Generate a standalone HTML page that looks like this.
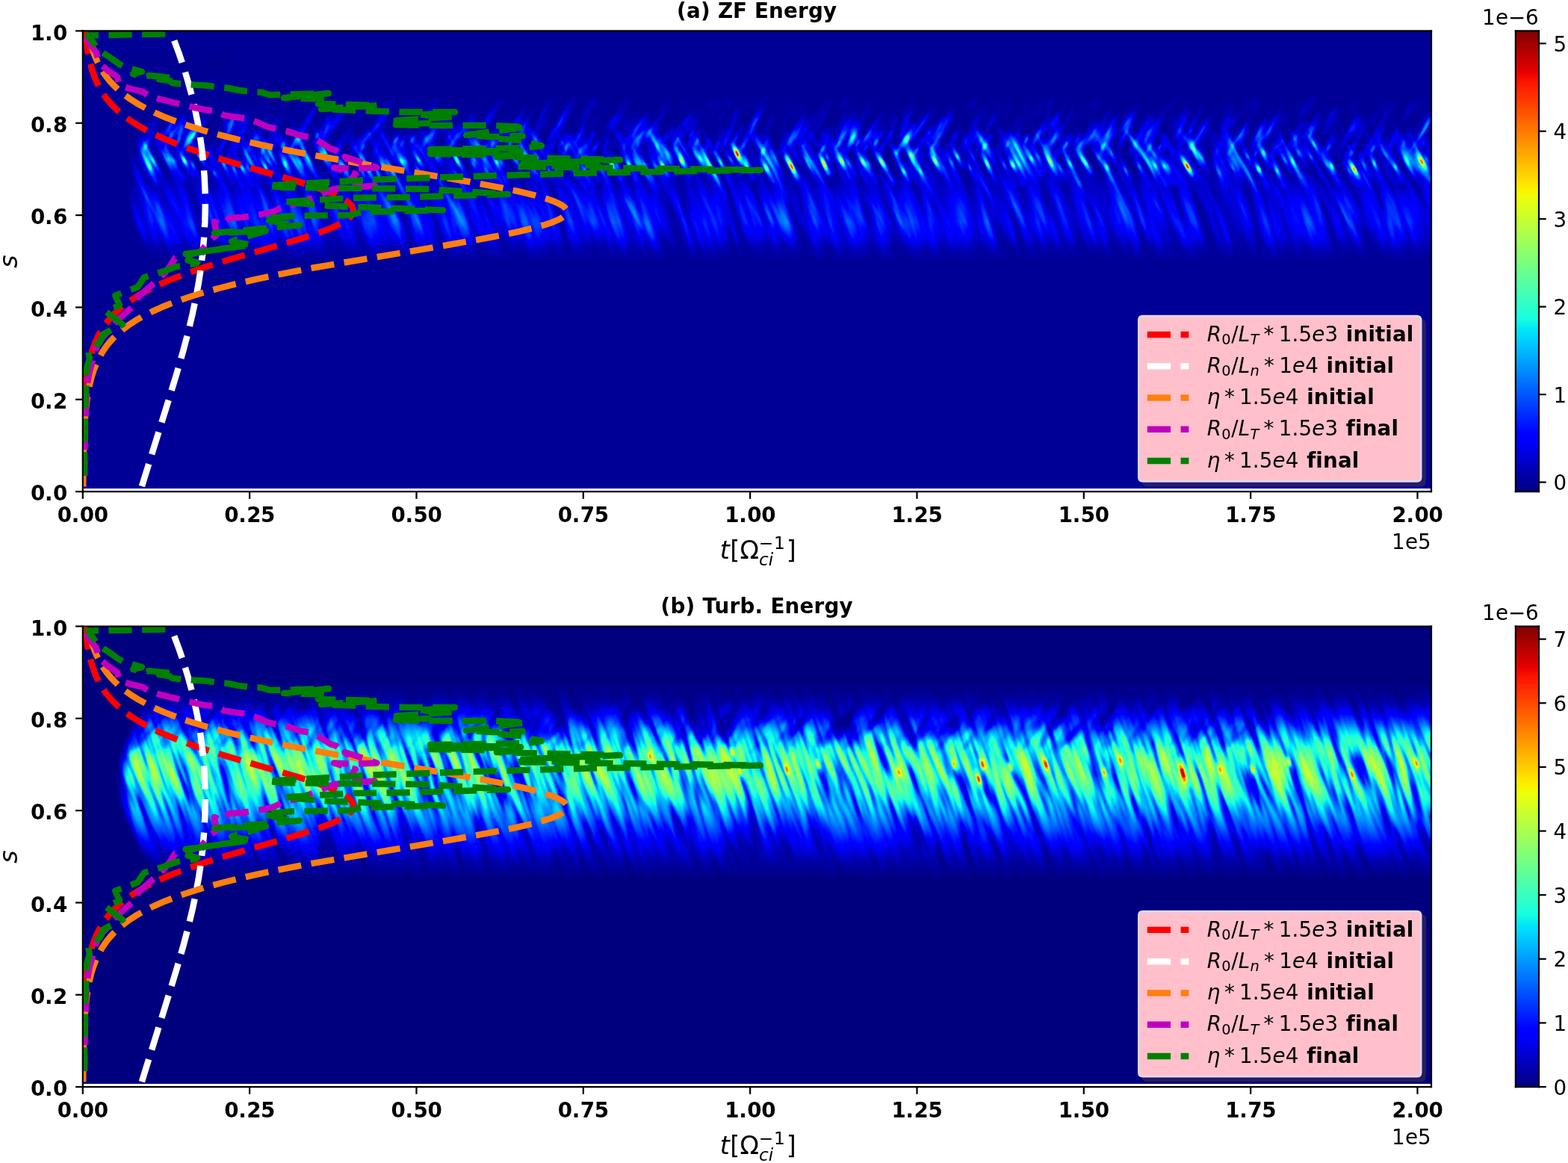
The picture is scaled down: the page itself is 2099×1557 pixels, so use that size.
<!DOCTYPE html>
<html lang="en"><head><meta charset="utf-8"><title>ZF and Turbulence Energy</title>
<style>html,body{margin:0;padding:0;background:#fff}#fig{position:relative;width:2099px;height:1557px;overflow:hidden;background:#fff;font-family:"DejaVu Sans","Liberation Sans",sans-serif}#fig svg{display:block}</style>
</head><body><div id="fig">
<svg width="2099" height="1557" viewBox="0 0 2099 1557" style="position:absolute;left:0;top:0"><defs><filter id="jet" filterUnits="userSpaceOnUse" x="0" y="0" width="2099" height="1557" color-interpolation-filters="sRGB"><feComponentTransfer><feFuncR type="table" tableValues="0 0 0 0 0 0 0 0 0 0 0 0 0 0 0 0 0 0 0 0 0 0 0 0 0 0 0 0 0 0 0 0 0 0 0 0 0 0 0 0 0 0 0 0 0 0.009 0.035 0.06 0.085 0.111 0.136 0.161 0.187 0.212 0.237 0.262 0.288 0.313 0.338 0.364 0.389 0.414 0.44 0.465 0.503 0.528 0.553 0.579 0.604 0.629 0.655 0.68 0.705 0.731 0.756 0.781 0.806 0.832 0.857 0.882 0.908 0.933 0.958 0.984 1 1 1 1 1 1 1 1 1 1 1 1 1 1 1 1 1 1 1 1 1 1 1 1 1 1 1 1 1 0.999 0.963 0.928 0.892 0.857 0.821 0.785 0.75 0.714 0.678 0.643 0.607 0.571 0.536 0.5"/><feFuncG type="table" tableValues="0 0 0 0 0 0 0 0 0 0 0 0 0 0 0 0 0.002 0.033 0.065 0.096 0.127 0.159 0.19 0.222 0.253 0.284 0.316 0.347 0.378 0.41 0.441 0.473 0.504 0.535 0.567 0.598 0.629 0.661 0.692 0.724 0.755 0.786 0.818 0.849 0.88 0.912 0.943 0.975 1 1 1 1 1 1 1 1 1 1 1 1 1 1 1 1 1 1 1 1 1 1 1 1 1 1 1 1 1 1 1 1 1 1 0.974 0.945 0.916 0.887 0.858 0.829 0.8 0.771 0.741 0.712 0.683 0.654 0.625 0.596 0.567 0.538 0.509 0.48 0.451 0.422 0.393 0.364 0.335 0.306 0.277 0.248 0.219 0.19 0.16 0.131 0.102 0.073 0.044 0.015 0 0 0 0 0 0 0 0 0 0 0 0"/><feFuncB type="table" tableValues="0.5 0.536 0.571 0.607 0.643 0.678 0.714 0.75 0.785 0.821 0.857 0.892 0.928 0.963 0.999 1 1 1 1 1 1 1 1 1 1 1 1 1 1 1 1 1 1 1 1 1 1 1 1 1 1 1 1 1 0.984 0.958 0.933 0.908 0.882 0.857 0.832 0.806 0.781 0.756 0.731 0.705 0.68 0.655 0.629 0.604 0.579 0.553 0.528 0.503 0.465 0.44 0.414 0.389 0.364 0.338 0.313 0.288 0.262 0.237 0.212 0.187 0.161 0.136 0.111 0.085 0.06 0.035 0.009 0 0 0 0 0 0 0 0 0 0 0 0 0 0 0 0 0 0 0 0 0 0 0 0 0 0 0 0 0 0 0 0 0 0 0 0 0 0 0 0 0 0 0 0 0"/></feComponentTransfer></filter><filter id="bl1" filterUnits="userSpaceOnUse" x="0" y="0" width="2099" height="1557" color-interpolation-filters="sRGB"><feGaussianBlur stdDeviation="1.1"/></filter><filter id="bl15" filterUnits="userSpaceOnUse" x="0" y="0" width="2099" height="1557" color-interpolation-filters="sRGB"><feGaussianBlur stdDeviation="1.5"/></filter><filter id="bl2" filterUnits="userSpaceOnUse" x="0" y="0" width="2099" height="1557" color-interpolation-filters="sRGB"><feGaussianBlur stdDeviation="2.0"/></filter><filter id="bl3" filterUnits="userSpaceOnUse" x="0" y="0" width="2099" height="1557" color-interpolation-filters="sRGB"><feGaussianBlur stdDeviation="3.2"/></filter><filter id="bl5" filterUnits="userSpaceOnUse" x="0" y="0" width="2099" height="1557" color-interpolation-filters="sRGB"><feGaussianBlur stdDeviation="5"/></filter><linearGradient id="eA" gradientUnits="userSpaceOnUse" x1="0" y1="152.4" x2="0" y2="337.4"><stop offset="0" stop-color="#000000"/><stop offset="0.1" stop-color="#1a1a1a"/><stop offset="0.167" stop-color="#737373"/><stop offset="0.233" stop-color="#cccccc"/><stop offset="0.333" stop-color="#ffffff"/><stop offset="0.433" stop-color="#bfbfbf"/><stop offset="0.533" stop-color="#737373"/><stop offset="0.667" stop-color="#4c4c4c"/><stop offset="0.8" stop-color="#333333"/><stop offset="0.933" stop-color="#0d0d0d"/><stop offset="1" stop-color="#000000"/></linearGradient><filter id="tA" filterUnits="userSpaceOnUse" x="-800" y="150.4" width="3000" height="189" color-interpolation-filters="sRGB"><feTurbulence type="fractalNoise" baseFrequency="0.07 0.012" numOctaves="2" seed="3"/><feColorMatrix type="matrix" values="1 0 0 0 0 1 0 0 0 0 1 0 0 0 0 0 0 0 0 1"/><feComponentTransfer result="c"><feFuncR type="table" tableValues="0 0 0 0 0.03 0.12 0.35 0.8 1"/><feFuncG type="table" tableValues="0 0 0 0 0.03 0.12 0.35 0.8 1"/><feFuncB type="table" tableValues="0 0 0 0 0.03 0.12 0.35 0.8 1"/></feComponentTransfer><feComposite operator="arithmetic" k1="0.75" k2="0" k3="0" k4="0" in="SourceGraphic" in2="c"/></filter><linearGradient id="fA" gradientUnits="userSpaceOnUse" x1="0" y1="127.7" x2="0" y2="214.1"><stop offset="0" stop-color="#000000"/><stop offset="0.214" stop-color="#404040"/><stop offset="0.429" stop-color="#b2b2b2"/><stop offset="0.643" stop-color="#ffffff"/><stop offset="0.821" stop-color="#999999"/><stop offset="1" stop-color="#000000"/></linearGradient><filter id="uA" filterUnits="userSpaceOnUse" x="-800" y="125.7" width="3000" height="90.3" color-interpolation-filters="sRGB"><feTurbulence type="fractalNoise" baseFrequency="0.07 0.02" numOctaves="2" seed="5"/><feColorMatrix type="matrix" values="1 0 0 0 0 1 0 0 0 0 1 0 0 0 0 0 0 0 0 1"/><feComponentTransfer result="c"><feFuncR type="table" tableValues="0 0 0 0 0.04 0.15 0.4 0.8 1"/><feFuncG type="table" tableValues="0 0 0 0 0.04 0.15 0.4 0.8 1"/><feFuncB type="table" tableValues="0 0 0 0 0.04 0.15 0.4 0.8 1"/></feComponentTransfer><feComposite operator="arithmetic" k1="0.45" k2="0" k3="0" k4="0" in="SourceGraphic" in2="c"/></filter><linearGradient id="gA" gradientUnits="userSpaceOnUse" x1="0" y1="226.4" x2="0" y2="349.8"><stop offset="0" stop-color="#000000"/><stop offset="0.2" stop-color="#595959"/><stop offset="0.4" stop-color="#cccccc"/><stop offset="0.575" stop-color="#ffffff"/><stop offset="0.725" stop-color="#b2b2b2"/><stop offset="0.85" stop-color="#404040"/><stop offset="1" stop-color="#000000"/></linearGradient><filter id="vA" filterUnits="userSpaceOnUse" x="-800" y="224.4" width="3000" height="127.3" color-interpolation-filters="sRGB"><feTurbulence type="fractalNoise" baseFrequency="0.07 0.008" numOctaves="2" seed="9"/><feColorMatrix type="matrix" values="1 0 0 0 0 1 0 0 0 0 1 0 0 0 0 0 0 0 0 1"/><feComponentTransfer result="c"><feFuncR type="table" tableValues="0.05 0.05 0.1 0.3 0.6 0.9 1 1"/><feFuncG type="table" tableValues="0.05 0.05 0.1 0.3 0.6 0.9 1 1"/><feFuncB type="table" tableValues="0.05 0.05 0.1 0.3 0.6 0.9 1 1"/></feComponentTransfer><feComposite operator="arithmetic" k1="0.22" k2="0" k3="0" k4="0" in="SourceGraphic" in2="c"/></filter><clipPath id="cp0"><rect x="110.8" y="41.4" width="1805.2" height="612.5"/></clipPath><linearGradient id="eB" gradientUnits="userSpaceOnUse" x1="0" y1="912.4" x2="0" y2="1177.6"><stop offset="0" stop-color="#000000"/><stop offset="0.07" stop-color="#050505"/><stop offset="0.116" stop-color="#0d0d0d"/><stop offset="0.163" stop-color="#1c1c1c"/><stop offset="0.209" stop-color="#333333"/><stop offset="0.256" stop-color="#4f4f4f"/><stop offset="0.302" stop-color="#666666"/><stop offset="0.349" stop-color="#737373"/><stop offset="0.419" stop-color="#787878"/><stop offset="0.488" stop-color="#757575"/><stop offset="0.558" stop-color="#696969"/><stop offset="0.628" stop-color="#545454"/><stop offset="0.698" stop-color="#3d3d3d"/><stop offset="0.767" stop-color="#292929"/><stop offset="0.837" stop-color="#171717"/><stop offset="0.907" stop-color="#0a0a0a"/><stop offset="1" stop-color="#000000"/></linearGradient><filter id="tB" filterUnits="userSpaceOnUse" x="-800" y="910.4" width="3000" height="269.2" color-interpolation-filters="sRGB"><feTurbulence type="fractalNoise" baseFrequency="0.085 0.012" numOctaves="2" seed="7"/><feColorMatrix type="matrix" values="1 0 0 0 0 1 0 0 0 0 1 0 0 0 0 0 0 0 0 1"/><feComponentTransfer result="c"><feFuncR type="table" tableValues="0.16 0.16 0.24 0.55 0.82 0.95 1 1"/><feFuncG type="table" tableValues="0.16 0.16 0.24 0.55 0.82 0.95 1 1"/><feFuncB type="table" tableValues="0.16 0.16 0.24 0.55 0.82 0.95 1 1"/></feComponentTransfer><feComposite operator="arithmetic" k1="1.3" k2="0" k3="0" k4="0" in="SourceGraphic" in2="c"/></filter><linearGradient id="cB" gradientUnits="userSpaceOnUse" x1="0" y1="912.4" x2="0" y2="1011"><stop offset="0" stop-color="#fff" stop-opacity="0"/><stop offset="0.25" stop-color="#fff" stop-opacity="1"/><stop offset="0.625" stop-color="#fff" stop-opacity="1"/><stop offset="0.844" stop-color="#fff" stop-opacity="0.6"/><stop offset="1" stop-color="#fff" stop-opacity="0"/></linearGradient><filter id="uB" filterUnits="userSpaceOnUse" x="-800" y="910.4" width="3000" height="102.7" color-interpolation-filters="sRGB"><feTurbulence type="fractalNoise" baseFrequency="0.05 0.02" numOctaves="2" seed="11"/><feColorMatrix type="matrix" values="1 0 0 0 0 1 0 0 0 0 1 0 0 0 0 0 0 0 0 1"/><feComponentTransfer result="c"><feFuncR type="table" tableValues="0.2 0.2 0.3 0.7 1 1 1 1"/><feFuncG type="table" tableValues="0.2 0.2 0.3 0.7 1 1 1 1"/><feFuncB type="table" tableValues="0.2 0.2 0.3 0.7 1 1 1 1"/></feComponentTransfer><feComposite operator="in" in="c" in2="SourceGraphic"/></filter><clipPath id="cp1"><rect x="110.8" y="838.5" width="1805.2" height="612.4"/></clipPath><linearGradient id="cbg" x1="0" y1="1" x2="0" y2="0"><stop offset="0" stop-color="#000080"/><stop offset="0.11" stop-color="#0000ff"/><stop offset="0.125" stop-color="#0000ff"/><stop offset="0.34" stop-color="#00dcfe"/><stop offset="0.35" stop-color="#00e4f8"/><stop offset="0.375" stop-color="#16ffe1"/><stop offset="0.64" stop-color="#eeff09"/><stop offset="0.65" stop-color="#f8f500"/><stop offset="0.66" stop-color="#feed00"/><stop offset="0.89" stop-color="#ff1300"/><stop offset="0.91" stop-color="#e80000"/><stop offset="1" stop-color="#800000"/></linearGradient></defs><g clip-path="url(#cp0)"><g filter="url(#jet)"><rect x="105.8" y="36.4" width="1815.2" height="626.8" fill="#050505"/><g style="mix-blend-mode:screen"><g transform="skewX(27)"><rect x="-800" y="152.4" width="3000" height="185" fill="url(#eA)" filter="url(#tA)"/></g></g><g style="mix-blend-mode:screen"><g transform="skewX(-27)"><rect x="-800" y="127.7" width="3000" height="86.3" fill="url(#fA)" filter="url(#uA)"/></g></g><g style="mix-blend-mode:screen"><g transform="skewX(17)"><rect x="-800" y="226.4" width="3000" height="123.3" fill="url(#gA)" filter="url(#vA)"/></g></g><g filter="url(#bl2)" stroke="#fff" stroke-linecap="round" fill="none"><path d="M902.1 195.5L924 238.5" stroke-width="4.1" stroke-opacity="0.131"/><path d="M902.1 195.5L913 176.2" stroke-width="3.1" stroke-opacity="0.112"/><path d="M930.1 197.7L945.2 228.9" stroke-width="3.5" stroke-opacity="0.143"/><path d="M930.1 197.7L935.6 183.4" stroke-width="3.7" stroke-opacity="0.123"/><path d="M956.6 200.9L977.7 244.2" stroke-width="3.1" stroke-opacity="0.1"/><path d="M956.6 200.9L970.6 173.9" stroke-width="2.9" stroke-opacity="0.085"/><path d="M980.8 193L997.5 229" stroke-width="3.5" stroke-opacity="0.113"/><path d="M980.8 193L993.7 168.6" stroke-width="2.8" stroke-opacity="0.097"/><path d="M989.1 202.1L1009.3 242.7" stroke-width="3.1" stroke-opacity="0.135"/><path d="M989.1 202.1L1000.4 183" stroke-width="3.2" stroke-opacity="0.116"/><path d="M1018.6 209.7L1037.1 244.7" stroke-width="3.6" stroke-opacity="0.172"/><path d="M1018.6 209.7L1029.1 182.3" stroke-width="3.5" stroke-opacity="0.148"/><path d="M1051.1 206L1069.7 242.6" stroke-width="4" stroke-opacity="0.127"/><path d="M1051.1 206L1061.8 186.4" stroke-width="2.6" stroke-opacity="0.109"/><path d="M1072.3 203.4L1094.3 240.7" stroke-width="3" stroke-opacity="0.078"/><path d="M1072.3 203.4L1078.1 188.4" stroke-width="2.8" stroke-opacity="0.067"/><path d="M1097.3 206.8L1110.9 236.3" stroke-width="4" stroke-opacity="0.176"/><path d="M1097.3 206.8L1105.6 192.6" stroke-width="2.9" stroke-opacity="0.151"/><path d="M1118.5 200L1139.3 239.7" stroke-width="3.3" stroke-opacity="0.146"/><path d="M1118.5 200L1133 175.8" stroke-width="3.3" stroke-opacity="0.125"/><path d="M1144.7 198.4L1166.3 236.6" stroke-width="3.6" stroke-opacity="0.124"/><path d="M1144.7 198.4L1152.1 183.4" stroke-width="2.8" stroke-opacity="0.106"/><path d="M1168.9 197.9L1197.4 246.9" stroke-width="4" stroke-opacity="0.173"/><path d="M1168.9 197.9L1178.2 179.3" stroke-width="3.3" stroke-opacity="0.149"/><path d="M1199.1 209.9L1219 246.4" stroke-width="4.2" stroke-opacity="0.116"/><path d="M1199.1 209.9L1206.7 191.7" stroke-width="2.7" stroke-opacity="0.099"/><path d="M1212 193.6L1229.1 226.4" stroke-width="4.2" stroke-opacity="0.165"/><path d="M1212 193.6L1224.4 166.8" stroke-width="2.7" stroke-opacity="0.141"/><path d="M1222 209.9L1246.7 257.9" stroke-width="3.3" stroke-opacity="0.137"/><path d="M1222 209.9L1237.3 183.1" stroke-width="2.8" stroke-opacity="0.118"/><path d="M1245.2 203.5L1261.8 234.3" stroke-width="3.7" stroke-opacity="0.134"/><path d="M1245.2 203.5L1257.4 178.6" stroke-width="3.2" stroke-opacity="0.114"/><path d="M1274 195.6L1291 227.2" stroke-width="3.4" stroke-opacity="0.128"/><path d="M1274 195.6L1282 175.3" stroke-width="3.4" stroke-opacity="0.109"/><path d="M1314.9 203L1330.8 240.9" stroke-width="3.3" stroke-opacity="0.134"/><path d="M1314.9 203L1328.4 178.8" stroke-width="2.9" stroke-opacity="0.115"/><path d="M1345.3 200.1L1370 248.3" stroke-width="3.9" stroke-opacity="0.133"/><path d="M1345.3 200.1L1354.3 180.6" stroke-width="2.7" stroke-opacity="0.114"/><path d="M1371.1 194.3L1393.6 236.1" stroke-width="3.4" stroke-opacity="0.173"/><path d="M1371.1 194.3L1376.8 180.2" stroke-width="3.1" stroke-opacity="0.148"/><path d="M1398.1 200.3L1414.5 235" stroke-width="4.2" stroke-opacity="0.143"/><path d="M1398.1 200.3L1407.3 183.9" stroke-width="3.5" stroke-opacity="0.122"/><path d="M1422.8 201.3L1447.5 248.8" stroke-width="3.6" stroke-opacity="0.159"/><path d="M1422.8 201.3L1434.3 181.1" stroke-width="2.6" stroke-opacity="0.136"/><path d="M1442.7 200.4L1462.8 234.3" stroke-width="3.8" stroke-opacity="0.143"/><path d="M1442.7 200.4L1449.9 185.1" stroke-width="3.7" stroke-opacity="0.123"/><path d="M1472.8 203L1489.6 242.1" stroke-width="3.3" stroke-opacity="0.169"/><path d="M1472.8 203L1484.5 181.4" stroke-width="2.7" stroke-opacity="0.145"/><path d="M1536.5 204.9L1562.8 250.6" stroke-width="4" stroke-opacity="0.132"/><path d="M1536.5 204.9L1543 189.8" stroke-width="2.8" stroke-opacity="0.113"/><path d="M1549.3 203.8L1570.5 246.7" stroke-width="3.9" stroke-opacity="0.118"/><path d="M1549.3 203.8L1560.2 179.9" stroke-width="3.2" stroke-opacity="0.102"/><path d="M1577.4 201.3L1601.1 242.9" stroke-width="3.5" stroke-opacity="0.115"/><path d="M1577.4 201.3L1588 180.1" stroke-width="3.1" stroke-opacity="0.098"/><path d="M1591 182.5L1607.4 221.3" stroke-width="4" stroke-opacity="0.121"/><path d="M1591 182.5L1598.6 162.2" stroke-width="3" stroke-opacity="0.104"/><path d="M1678.5 212.8L1697.7 252.5" stroke-width="3.6" stroke-opacity="0.134"/><path d="M1678.5 212.8L1686.8 189.3" stroke-width="3.2" stroke-opacity="0.115"/><path d="M1683.6 187.1L1703.1 226.4" stroke-width="3.1" stroke-opacity="0.126"/><path d="M1683.6 187.1L1693.5 168" stroke-width="3.6" stroke-opacity="0.108"/><path d="M1701.2 208.7L1719.7 252.7" stroke-width="3.8" stroke-opacity="0.165"/><path d="M1701.2 208.7L1710.2 193.6" stroke-width="3.3" stroke-opacity="0.142"/><path d="M1723.5 201L1741.4 239.2" stroke-width="3.9" stroke-opacity="0.103"/><path d="M1723.5 201L1732.9 178" stroke-width="3.6" stroke-opacity="0.089"/><path d="M1750.6 178.6L1775.4 220.9" stroke-width="3.2" stroke-opacity="0.101"/><path d="M1750.6 178.6L1765.4 151.8" stroke-width="2.9" stroke-opacity="0.086"/><path d="M1775.2 204.7L1793.3 247.1" stroke-width="4" stroke-opacity="0.11"/><path d="M1775.2 204.7L1785.6 183.9" stroke-width="3.4" stroke-opacity="0.094"/><path d="M1805 213L1823.5 245.9" stroke-width="3.9" stroke-opacity="0.136"/><path d="M1805 213L1815 192.6" stroke-width="3.5" stroke-opacity="0.117"/><path d="M1834.5 206.6L1849.2 241.5" stroke-width="3.6" stroke-opacity="0.153"/><path d="M1834.5 206.6L1841.9 191.2" stroke-width="2.7" stroke-opacity="0.131"/><path d="M1857.7 202.5L1877.1 242.9" stroke-width="3.4" stroke-opacity="0.181"/><path d="M1857.7 202.5L1870 176.8" stroke-width="3.5" stroke-opacity="0.155"/><path d="M1895.5 203.2L1918 242.7" stroke-width="3.4" stroke-opacity="0.102"/><path d="M1895.5 203.2L1903.5 187.4" stroke-width="3" stroke-opacity="0.087"/><path d="M191.7 204.5L210.5 245.3" stroke-width="4.2" stroke-opacity="0.159"/><path d="M191.7 204.5L198.8 185.8" stroke-width="2.9" stroke-opacity="0.136"/><path d="M219.7 200.1L235.2 231.4" stroke-width="4" stroke-opacity="0.077"/><path d="M219.7 200.1L229.8 179.3" stroke-width="2.9" stroke-opacity="0.066"/><path d="M236.5 195.4L257.9 235.9" stroke-width="3.2" stroke-opacity="0.136"/><path d="M236.5 195.4L242.8 177.7" stroke-width="2.7" stroke-opacity="0.117"/><path d="M255.8 188.9L278.1 227.3" stroke-width="3.7" stroke-opacity="0.128"/><path d="M255.8 188.9L268.4 162.9" stroke-width="2.8" stroke-opacity="0.109"/><path d="M293.6 206.3L311 247.1" stroke-width="4" stroke-opacity="0.061"/><path d="M293.6 206.3L304.8 182.5" stroke-width="3.2" stroke-opacity="0.052"/><path d="M313 205.8L338.7 249.6" stroke-width="3.7" stroke-opacity="0.141"/><path d="M313 205.8L318.9 190.3" stroke-width="3.8" stroke-opacity="0.121"/><path d="M348.2 209.6L368.2 247.4" stroke-width="3" stroke-opacity="0.099"/><path d="M348.2 209.6L357.5 190.8" stroke-width="3.7" stroke-opacity="0.085"/><path d="M373.3 203.4L392 242.9" stroke-width="3.1" stroke-opacity="0.102"/><path d="M373.3 203.4L381 189.3" stroke-width="3.1" stroke-opacity="0.087"/><path d="M394 202.1L410.7 235.4" stroke-width="3" stroke-opacity="0.093"/><path d="M394 202.1L403.4 180.8" stroke-width="3.1" stroke-opacity="0.079"/><path d="M421 189L449.2 238.3" stroke-width="3.4" stroke-opacity="0.13"/><path d="M421 189L427.7 174.6" stroke-width="2.7" stroke-opacity="0.112"/><path d="M452.5 207L473.5 249.6" stroke-width="3.9" stroke-opacity="0.1"/><path d="M452.5 207L461.2 182.4" stroke-width="3" stroke-opacity="0.086"/><path d="M482.6 203.9L502.4 248.4" stroke-width="4.1" stroke-opacity="0.164"/><path d="M482.6 203.9L494.5 176.5" stroke-width="3.4" stroke-opacity="0.14"/><path d="M501.3 203L522.9 239.9" stroke-width="3.4" stroke-opacity="0.08"/><path d="M501.3 203L512.5 179.7" stroke-width="3.6" stroke-opacity="0.069"/><path d="M526.1 194.8L547.6 233.8" stroke-width="3.9" stroke-opacity="0.164"/><path d="M526.1 194.8L533.8 179.6" stroke-width="3" stroke-opacity="0.14"/><path d="M548.2 193.9L573 235.3" stroke-width="4.2" stroke-opacity="0.109"/><path d="M548.2 193.9L557.5 177.6" stroke-width="3.8" stroke-opacity="0.093"/><path d="M575.2 190.8L597.2 240.7" stroke-width="3" stroke-opacity="0.071"/><path d="M575.2 190.8L584.9 163.1" stroke-width="3.8" stroke-opacity="0.061"/><path d="M601.9 198.1L625.2 238.1" stroke-width="3.2" stroke-opacity="0.158"/><path d="M601.9 198.1L613.8 177.5" stroke-width="3.3" stroke-opacity="0.135"/><path d="M627.5 199.9L644.6 230.8" stroke-width="3" stroke-opacity="0.089"/><path d="M627.5 199.9L634.1 185.2" stroke-width="2.8" stroke-opacity="0.076"/><path d="M656.7 199.9L677.8 245" stroke-width="4.1" stroke-opacity="0.167"/><path d="M656.7 199.9L662.3 184.3" stroke-width="3.5" stroke-opacity="0.143"/><path d="M681.5 194.1L698.5 233.6" stroke-width="3.3" stroke-opacity="0.16"/><path d="M681.5 194.1L691 170.8" stroke-width="3.7" stroke-opacity="0.137"/><path d="M711.3 194.8L732.4 236.5" stroke-width="3.6" stroke-opacity="0.066"/><path d="M711.3 194.8L722.7 175.1" stroke-width="3.4" stroke-opacity="0.056"/><path d="M733.7 203.9L750.9 242.3" stroke-width="3.4" stroke-opacity="0.08"/><path d="M733.7 203.9L741 189.6" stroke-width="3.2" stroke-opacity="0.069"/><path d="M755.7 203.2L784.5 253.8" stroke-width="3.1" stroke-opacity="0.156"/><path d="M755.7 203.2L763.7 180.4" stroke-width="2.9" stroke-opacity="0.134"/><path d="M781.6 202.9L802.1 243.6" stroke-width="3.2" stroke-opacity="0.159"/><path d="M781.6 202.9L796.5 176.3" stroke-width="3.7" stroke-opacity="0.137"/><path d="M807.7 200.2L831.7 242.9" stroke-width="4.2" stroke-opacity="0.106"/><path d="M807.7 200.2L814.4 183.2" stroke-width="3.3" stroke-opacity="0.091"/><path d="M833.4 201.9L852.9 243.5" stroke-width="4" stroke-opacity="0.148"/><path d="M833.4 201.9L843.7 176.9" stroke-width="3" stroke-opacity="0.127"/><path d="M850.9 199.5L874.3 240.4" stroke-width="3.7" stroke-opacity="0.082"/><path d="M850.9 199.5L864 174.7" stroke-width="3.4" stroke-opacity="0.07"/><path d="M877.3 201.2L895.6 239.4" stroke-width="3.6" stroke-opacity="0.181"/><path d="M877.3 201.2L884.1 183.1" stroke-width="2.7" stroke-opacity="0.155"/><path d="M195.8 198.6L215.5 233.6" stroke-width="3.3" stroke-opacity="0.086"/><path d="M195.8 198.6L203.8 182.4" stroke-width="3.3" stroke-opacity="0.074"/><path d="M222.2 197.1L246.8 240.6" stroke-width="3.7" stroke-opacity="0.109"/><path d="M222.2 197.1L229.5 176.5" stroke-width="3.1" stroke-opacity="0.093"/><path d="M248.8 199.5L265.1 237.4" stroke-width="3.2" stroke-opacity="0.074"/><path d="M248.8 199.5L264.1 171.8" stroke-width="2.9" stroke-opacity="0.064"/><path d="M276.6 211.9L298.3 252" stroke-width="4.1" stroke-opacity="0.071"/><path d="M276.6 211.9L290.2 187.8" stroke-width="3.5" stroke-opacity="0.061"/><path d="M304.7 207.4L325 252.1" stroke-width="3.1" stroke-opacity="0.099"/><path d="M304.7 207.4L314 191" stroke-width="3.4" stroke-opacity="0.085"/><path d="M325.8 210.4L338.8 240.6" stroke-width="3.3" stroke-opacity="0.068"/><path d="M325.8 210.4L333.5 195.4" stroke-width="3.3" stroke-opacity="0.059"/><path d="M350.5 200.2L375.8 242.6" stroke-width="3.9" stroke-opacity="0.092"/><path d="M350.5 200.2L357.1 182.9" stroke-width="3.2" stroke-opacity="0.079"/><path d="M375.9 201.8L395.3 243.2" stroke-width="3.3" stroke-opacity="0.105"/><path d="M375.9 201.8L383.8 184.1" stroke-width="2.8" stroke-opacity="0.09"/><path d="M403 195.5L428.6 241.8" stroke-width="3.8" stroke-opacity="0.068"/><path d="M403 195.5L414.3 176.1" stroke-width="2.8" stroke-opacity="0.058"/><path d="M427.7 189.1L446.8 232.6" stroke-width="3.3" stroke-opacity="0.099"/><path d="M427.7 189.1L439.2 166.7" stroke-width="2.8" stroke-opacity="0.085"/><path d="M449 208.3L468.7 245.3" stroke-width="3.1" stroke-opacity="0.102"/><path d="M449 208.3L455.4 191.4" stroke-width="3.8" stroke-opacity="0.087"/><path d="M479.9 217.6L492.6 246.7" stroke-width="3" stroke-opacity="0.071"/><path d="M479.9 217.6L485.9 201.3" stroke-width="2.8" stroke-opacity="0.061"/><path d="M497.2 214.4L514.2 248.6" stroke-width="3.1" stroke-opacity="0.107"/><path d="M497.2 214.4L504.8 200.2" stroke-width="3.4" stroke-opacity="0.091"/><path d="M518.6 214.6L538.2 256.4" stroke-width="4" stroke-opacity="0.098"/><path d="M518.6 214.6L530 193.9" stroke-width="3.7" stroke-opacity="0.084"/><path d="M534.9 198.9L555.8 243.4" stroke-width="3.2" stroke-opacity="0.082"/><path d="M534.9 198.9L546.3 179.6" stroke-width="3.4" stroke-opacity="0.07"/><path d="M551.9 210.9L568.7 247.8" stroke-width="3.3" stroke-opacity="0.069"/><path d="M551.9 210.9L560.6 189.4" stroke-width="2.7" stroke-opacity="0.06"/><path d="M578.6 191.7L602.5 236.2" stroke-width="3.5" stroke-opacity="0.072"/><path d="M578.6 191.7L585.4 176.3" stroke-width="2.7" stroke-opacity="0.062"/><path d="M597.8 189.7L621.3 228.9" stroke-width="3.1" stroke-opacity="0.1"/><path d="M597.8 189.7L608.9 169.2" stroke-width="3.5" stroke-opacity="0.085"/><path d="M623.1 197.6L646.1 245.8" stroke-width="3.6" stroke-opacity="0.079"/><path d="M623.1 197.6L632.8 175.4" stroke-width="3" stroke-opacity="0.067"/><path d="M643.6 211.6L661.2 250.8" stroke-width="3.4" stroke-opacity="0.06"/><path d="M643.6 211.6L651 191.1" stroke-width="2.6" stroke-opacity="0.051"/><path d="M661.2 198.3L684.8 242.6" stroke-width="3.6" stroke-opacity="0.061"/><path d="M661.2 198.3L671 181.4" stroke-width="3" stroke-opacity="0.052"/><path d="M677.9 184.3L697.2 223.1" stroke-width="3.9" stroke-opacity="0.105"/><path d="M677.9 184.3L691.8 158.2" stroke-width="3.7" stroke-opacity="0.09"/><path d="M699.1 196.1L718.7 242.5" stroke-width="3.4" stroke-opacity="0.082"/><path d="M699.1 196.1L709.8 170.5" stroke-width="3.1" stroke-opacity="0.07"/><path d="M728.5 214.8L750 258.6" stroke-width="3.2" stroke-opacity="0.069"/><path d="M728.5 214.8L733.8 200.6" stroke-width="3.1" stroke-opacity="0.059"/><path d="M748.4 199.8L770.7 238.4" stroke-width="4" stroke-opacity="0.082"/><path d="M748.4 199.8L759 180" stroke-width="3.6" stroke-opacity="0.07"/><path d="M773.9 208.1L795.5 252.9" stroke-width="3.8" stroke-opacity="0.073"/><path d="M773.9 208.1L783.3 190.9" stroke-width="3.7" stroke-opacity="0.062"/><path d="M793.2 205.3L815 246.6" stroke-width="3.9" stroke-opacity="0.099"/><path d="M793.2 205.3L801.9 189.7" stroke-width="3.1" stroke-opacity="0.085"/><path d="M816.1 201.1L836 241" stroke-width="3.9" stroke-opacity="0.067"/><path d="M816.1 201.1L825.8 181.1" stroke-width="2.8" stroke-opacity="0.057"/><path d="M845.4 205.3L864.5 241.3" stroke-width="3.4" stroke-opacity="0.061"/><path d="M845.4 205.3L858.1 182.3" stroke-width="2.9" stroke-opacity="0.052"/><path d="M867.1 205.3L891.1 246.2" stroke-width="3.3" stroke-opacity="0.062"/><path d="M867.1 205.3L877.3 179.5" stroke-width="3.1" stroke-opacity="0.053"/><path d="M887.3 191.8L902.1 221.6" stroke-width="3.8" stroke-opacity="0.085"/><path d="M887.3 191.8L900.3 170" stroke-width="2.8" stroke-opacity="0.073"/><path d="M900.1 189.1L924.3 231.5" stroke-width="3.8" stroke-opacity="0.087"/><path d="M900.1 189.1L910.1 167.1" stroke-width="3.6" stroke-opacity="0.075"/><path d="M922.6 186.1L943.4 235" stroke-width="3.3" stroke-opacity="0.092"/><path d="M922.6 186.1L932.9 163.6" stroke-width="2.8" stroke-opacity="0.079"/><path d="M941.2 205.3L963.6 245.4" stroke-width="4" stroke-opacity="0.09"/><path d="M941.2 205.3L950.3 187" stroke-width="3.2" stroke-opacity="0.077"/><path d="M968.4 196.6L991.7 237.1" stroke-width="3.6" stroke-opacity="0.079"/><path d="M968.4 196.6L979.8 171.1" stroke-width="3.5" stroke-opacity="0.068"/><path d="M993.2 202.7L1009.4 236.7" stroke-width="4" stroke-opacity="0.081"/><path d="M993.2 202.7L999.3 187.2" stroke-width="3" stroke-opacity="0.069"/><path d="M1017.1 211.7L1036.5 247.1" stroke-width="3.5" stroke-opacity="0.098"/><path d="M1017.1 211.7L1026.8 190.6" stroke-width="2.7" stroke-opacity="0.084"/><path d="M1045.8 195.1L1066.8 244.1" stroke-width="3.5" stroke-opacity="0.097"/><path d="M1045.8 195.1L1052.6 178.2" stroke-width="2.9" stroke-opacity="0.083"/><path d="M1073.5 200.4L1092.2 238" stroke-width="3.8" stroke-opacity="0.059"/><path d="M1073.5 200.4L1083.6 183.2" stroke-width="3.4" stroke-opacity="0.051"/><path d="M1098.1 189.1L1117.8 233.7" stroke-width="3.6" stroke-opacity="0.085"/><path d="M1098.1 189.1L1107.9 170.2" stroke-width="3.2" stroke-opacity="0.072"/><path d="M1124.2 197L1145.8 236.5" stroke-width="4.1" stroke-opacity="0.087"/><path d="M1124.2 197L1136.4 169.3" stroke-width="3.3" stroke-opacity="0.075"/><path d="M1155.4 204.9L1174.2 245.6" stroke-width="3" stroke-opacity="0.109"/><path d="M1155.4 204.9L1168.6 176.9" stroke-width="3.6" stroke-opacity="0.093"/><path d="M1176.1 205.5L1194.2 241.4" stroke-width="3.5" stroke-opacity="0.092"/><path d="M1176.1 205.5L1191.7 178.9" stroke-width="2.9" stroke-opacity="0.079"/><path d="M1190.1 185.6L1212.5 234.8" stroke-width="3.5" stroke-opacity="0.085"/><path d="M1190.1 185.6L1200 158.3" stroke-width="3.2" stroke-opacity="0.073"/><path d="M1210.6 195.8L1238.7 246.8" stroke-width="3.2" stroke-opacity="0.106"/><path d="M1210.6 195.8L1218.8 177.3" stroke-width="3.1" stroke-opacity="0.091"/><path d="M1239 184.9L1262.9 227.1" stroke-width="4.2" stroke-opacity="0.074"/><path d="M1239 184.9L1250.5 165.4" stroke-width="3.5" stroke-opacity="0.063"/><path d="M1265.8 200L1284.7 241.3" stroke-width="4.1" stroke-opacity="0.073"/><path d="M1265.8 200L1278 178.8" stroke-width="3.6" stroke-opacity="0.062"/><path d="M1288.6 202.9L1306.3 242.3" stroke-width="3.2" stroke-opacity="0.062"/><path d="M1288.6 202.9L1297.3 185.4" stroke-width="2.7" stroke-opacity="0.053"/><path d="M1313.5 204.4L1337 249" stroke-width="3.8" stroke-opacity="0.082"/><path d="M1313.5 204.4L1324.7 179.3" stroke-width="3.6" stroke-opacity="0.07"/><path d="M1335.4 203.5L1359.9 251" stroke-width="3.4" stroke-opacity="0.094"/><path d="M1335.4 203.5L1347.6 181.1" stroke-width="3.5" stroke-opacity="0.08"/><path d="M1354.4 202.6L1375.8 240.4" stroke-width="4.2" stroke-opacity="0.081"/><path d="M1354.4 202.6L1365.9 178.4" stroke-width="3.8" stroke-opacity="0.07"/><path d="M1382.9 196.9L1400.9 231.4" stroke-width="4.1" stroke-opacity="0.071"/><path d="M1382.9 196.9L1392.1 172.7" stroke-width="2.8" stroke-opacity="0.061"/><path d="M1411.6 211.2L1430.3 244.6" stroke-width="3.2" stroke-opacity="0.089"/><path d="M1411.6 211.2L1417.7 196.7" stroke-width="3.8" stroke-opacity="0.076"/><path d="M1438.7 193.8L1460.8 234.8" stroke-width="4" stroke-opacity="0.096"/><path d="M1438.7 193.8L1448.1 174.4" stroke-width="3.2" stroke-opacity="0.082"/><path d="M1463 197.6L1482 230.6" stroke-width="3.4" stroke-opacity="0.084"/><path d="M1463 197.6L1468.7 181.4" stroke-width="2.8" stroke-opacity="0.072"/><path d="M1481.1 192L1502.6 234.1" stroke-width="3.2" stroke-opacity="0.059"/><path d="M1481.1 192L1493.3 167.6" stroke-width="3.1" stroke-opacity="0.051"/><path d="M1497.7 207.2L1514.6 245.5" stroke-width="3.3" stroke-opacity="0.088"/><path d="M1497.7 207.2L1505 188.1" stroke-width="2.7" stroke-opacity="0.075"/><path d="M1515.1 202.3L1538.6 251" stroke-width="4.1" stroke-opacity="0.09"/><path d="M1515.1 202.3L1524.9 184.5" stroke-width="2.7" stroke-opacity="0.077"/><path d="M1532.6 184.1L1555.1 224.5" stroke-width="3.4" stroke-opacity="0.084"/><path d="M1532.6 184.1L1543.8 163.5" stroke-width="3.6" stroke-opacity="0.072"/><path d="M1555.3 204.4L1575.2 250" stroke-width="3.7" stroke-opacity="0.078"/><path d="M1555.3 204.4L1565 186.3" stroke-width="2.7" stroke-opacity="0.067"/><path d="M1576.7 202.5L1596.6 237" stroke-width="4.1" stroke-opacity="0.061"/><path d="M1576.7 202.5L1585.2 185.4" stroke-width="2.9" stroke-opacity="0.053"/><path d="M1600.7 196.2L1618.6 230.5" stroke-width="3.4" stroke-opacity="0.065"/><path d="M1600.7 196.2L1613.7 168.5" stroke-width="3.1" stroke-opacity="0.056"/><path d="M1624.8 214.2L1641.1 251.6" stroke-width="3.7" stroke-opacity="0.102"/><path d="M1624.8 214.2L1632 195.6" stroke-width="3.8" stroke-opacity="0.088"/><path d="M1642.7 210.2L1663 247.5" stroke-width="3" stroke-opacity="0.101"/><path d="M1642.7 210.2L1653.3 188.5" stroke-width="2.8" stroke-opacity="0.087"/><path d="M1660.7 191.6L1681.1 230.8" stroke-width="3.7" stroke-opacity="0.09"/><path d="M1660.7 191.6L1668.1 173.5" stroke-width="3.7" stroke-opacity="0.077"/><path d="M1684.1 192.9L1699.5 225.6" stroke-width="3.9" stroke-opacity="0.073"/><path d="M1684.1 192.9L1694.4 175.1" stroke-width="2.7" stroke-opacity="0.063"/><path d="M1711.1 198.6L1730.8 234.7" stroke-width="3.2" stroke-opacity="0.06"/><path d="M1711.1 198.6L1719.1 183.1" stroke-width="2.7" stroke-opacity="0.051"/><path d="M1731.1 191.6L1750.4 226.1" stroke-width="3.4" stroke-opacity="0.109"/><path d="M1731.1 191.6L1745 163.8" stroke-width="3.5" stroke-opacity="0.093"/><path d="M1743.9 188.9L1770.5 239.9" stroke-width="3.3" stroke-opacity="0.078"/><path d="M1743.9 188.9L1752.7 165.1" stroke-width="2.8" stroke-opacity="0.067"/><path d="M1770.1 208.4L1789.2 244.2" stroke-width="3.2" stroke-opacity="0.1"/><path d="M1770.1 208.4L1779 189.3" stroke-width="3.1" stroke-opacity="0.085"/><path d="M1798.4 214.2L1818.1 250.2" stroke-width="3.6" stroke-opacity="0.084"/><path d="M1798.4 214.2L1809.2 193.6" stroke-width="3.1" stroke-opacity="0.072"/><path d="M1820.2 208.2L1834.6 240.9" stroke-width="3.7" stroke-opacity="0.089"/><path d="M1820.2 208.2L1828.4 194" stroke-width="3" stroke-opacity="0.077"/><path d="M1844.5 188.8L1865.6 225.8" stroke-width="4" stroke-opacity="0.094"/><path d="M1844.5 188.8L1852.8 168.9" stroke-width="2.6" stroke-opacity="0.08"/><path d="M1876.2 199.6L1890.6 233.7" stroke-width="3.8" stroke-opacity="0.077"/><path d="M1876.2 199.6L1887.5 173" stroke-width="3.2" stroke-opacity="0.066"/><path d="M1902.8 197.9L1917.2 229.7" stroke-width="3.2" stroke-opacity="0.076"/><path d="M1902.8 197.9L1909.8 180.4" stroke-width="3.4" stroke-opacity="0.065"/></g><g filter="url(#bl2)" stroke="#fff" stroke-linecap="round" fill="none"><path d="M907.5 206.2L917.3 225.2" stroke-width="5.2" stroke-opacity="0.15"/><path d="M932.5 202.7L941.5 221.3" stroke-width="4.7" stroke-opacity="0.1"/><path d="M957.7 203.2L971.1 230.8" stroke-width="4.5" stroke-opacity="0.1"/><path d="M979.9 191.1L993.5 220.3" stroke-width="5.3" stroke-opacity="0.3"/><path d="M993.6 211.1L1004.4 232.9" stroke-width="5.1" stroke-opacity="0.1"/><path d="M1020 212.5L1032.6 236.1" stroke-width="5.2" stroke-opacity="0.1"/><path d="M1052.5 208.6L1067.1 237.6" stroke-width="4.5" stroke-opacity="0.3"/><path d="M1076 209.6L1090.6 234.4" stroke-width="4.6" stroke-opacity="0.07"/><path d="M1096.5 205.1L1109.7 233.7" stroke-width="4.4" stroke-opacity="0.26"/><path d="M1121.4 205.7L1132 225.7" stroke-width="5.4" stroke-opacity="0.15"/><path d="M1148.2 204.6L1162.2 229.2" stroke-width="4.9" stroke-opacity="0.15"/><path d="M1173.1 205L1186.9 228.8" stroke-width="4.6" stroke-opacity="0.15"/><path d="M1203.4 217.7L1216 240.9" stroke-width="4.9" stroke-opacity="0.1"/><path d="M1214.8 199L1224.4 217.4" stroke-width="4.7" stroke-opacity="0.15"/><path d="M1226.4 218.4L1237.6 240.2" stroke-width="5.1" stroke-opacity="0.1"/><path d="M1244.7 202.6L1258.9 228.8" stroke-width="5.4" stroke-opacity="0.15"/><path d="M1275.1 197.6L1287.9 221.4" stroke-width="5.3" stroke-opacity="0.1"/><path d="M1315.5 204.5L1326.9 231.7" stroke-width="4.5" stroke-opacity="0.1"/><path d="M1350.8 210.9L1360.8 230.3" stroke-width="5.3" stroke-opacity="0.15"/><path d="M1375.2 202L1386 222" stroke-width="5.4" stroke-opacity="0.1"/><path d="M1399.4 203L1411.4 228.4" stroke-width="4.8" stroke-opacity="0.15"/><path d="M1426 207.4L1438 230.6" stroke-width="4.5" stroke-opacity="0.1"/><path d="M1445.7 205.4L1460.3 230" stroke-width="5.2" stroke-opacity="0.1"/><path d="M1477.7 214.4L1485.9 233.4" stroke-width="5.1" stroke-opacity="0.1"/><path d="M1539.8 210.6L1552.2 232.2" stroke-width="5.2" stroke-opacity="0.1"/><path d="M1553.6 212.4L1563.6 232.8" stroke-width="4.8" stroke-opacity="0.1"/><path d="M1582.4 210.2L1596.6 235" stroke-width="4.7" stroke-opacity="0.3"/><path d="M1592.2 185.4L1603.8 212.6" stroke-width="4.9" stroke-opacity="0.1"/><path d="M1680.4 216.8L1689.6 235.8" stroke-width="5.3" stroke-opacity="0.15"/><path d="M1687.5 195L1696.5 213" stroke-width="4.4" stroke-opacity="0.1"/><path d="M1705.2 218.1L1714.2 239.5" stroke-width="4.9" stroke-opacity="0.1"/><path d="M1724.4 202.9L1737 229.9" stroke-width="5.4" stroke-opacity="0.1"/><path d="M1751.3 179.9L1766.7 206.1" stroke-width="4.5" stroke-opacity="0.1"/><path d="M1778.7 213L1786.9 232.2" stroke-width="4.4" stroke-opacity="0.15"/><path d="M1805.4 213.7L1819.6 238.9" stroke-width="4.9" stroke-opacity="0.26"/><path d="M1834.7 207.2L1844.7 230.8" stroke-width="5.3" stroke-opacity="0.1"/><path d="M1863.2 214L1872.8 233.8" stroke-width="4.9" stroke-opacity="0.1"/><path d="M1896.4 204.8L1909.6 228" stroke-width="5.3" stroke-opacity="0.26"/><path d="M194.9 211.5L205.1 233.5" stroke-width="5.3" stroke-opacity="0.1"/><path d="M219.9 200.4L232.4 225.9" stroke-width="5.2" stroke-opacity="0.07"/><path d="M241.2 204.2L252.5 225.6" stroke-width="5" stroke-opacity="0.15"/><path d="M260 196.2L274.7 221.5" stroke-width="5" stroke-opacity="0.1"/><path d="M293.9 207L304.8 232.5" stroke-width="5.3" stroke-opacity="0.07"/><path d="M318.5 215.2L330.7 235.9" stroke-width="4.7" stroke-opacity="0.1"/><path d="M349.1 211.4L361.6 235" stroke-width="4.6" stroke-opacity="0.1"/><path d="M374.7 206.4L387.8 234" stroke-width="4.7" stroke-opacity="0.1"/><path d="M396.3 206.5L407.7 229.5" stroke-width="5.3" stroke-opacity="0.07"/><path d="M424.7 195.3L440.4 223" stroke-width="5.2" stroke-opacity="0.1"/><path d="M455.2 212.6L466.2 234.7" stroke-width="5.2" stroke-opacity="0.1"/><path d="M485.7 210.7L497.2 236.7" stroke-width="5.4" stroke-opacity="0.1"/><path d="M506.2 211.4L517.1 230" stroke-width="4.7" stroke-opacity="0.07"/><path d="M532.7 206.8L542.7 224.9" stroke-width="5.1" stroke-opacity="0.1"/><path d="M553.1 202L567.3 225.7" stroke-width="4.9" stroke-opacity="0.1"/><path d="M579 199.4L588.9 222" stroke-width="4.9" stroke-opacity="0.07"/><path d="M605.9 205.1L618.7 227.1" stroke-width="4.6" stroke-opacity="0.1"/><path d="M629.8 204.1L640.5 223.4" stroke-width="5" stroke-opacity="0.07"/><path d="M660 206.9L669.6 227.3" stroke-width="5" stroke-opacity="0.1"/><path d="M682.6 196.6L692.6 219.9" stroke-width="4.7" stroke-opacity="0.15"/><path d="M713.8 199.7L723.8 219.4" stroke-width="4.9" stroke-opacity="0.07"/><path d="M739 215.6L747.5 234.6" stroke-width="5" stroke-opacity="0.07"/><path d="M761.1 212.7L774.9 237" stroke-width="4.6" stroke-opacity="0.1"/><path d="M784.4 208.4L797.4 234.3" stroke-width="5" stroke-opacity="0.15"/><path d="M813.1 209.9L824.8 230.8" stroke-width="5.3" stroke-opacity="0.15"/><path d="M836.9 209.5L846.3 229.6" stroke-width="5.2" stroke-opacity="0.1"/><path d="M856.2 208.8L869.6 232.2" stroke-width="4.7" stroke-opacity="0.07"/><path d="M881.3 209.6L893.6 235.1" stroke-width="5" stroke-opacity="0.15"/><path d="M197.2 201L212.8 228.8" stroke-width="5.2" stroke-opacity="0.07"/><path d="M227 205.6L237.3 223.7" stroke-width="4.6" stroke-opacity="0.07"/><path d="M253.2 209.5L263.2 232.8" stroke-width="5.4" stroke-opacity="0.07"/><path d="M282.4 222.6L292.3 240.9" stroke-width="4.6" stroke-opacity="0.07"/><path d="M307.8 214.2L319.1 239.1" stroke-width="4.9" stroke-opacity="0.07"/><path d="M326.6 212.4L336.6 235.6" stroke-width="4.4" stroke-opacity="0.07"/><path d="M353.3 204.8L365.7 225.6" stroke-width="4.6" stroke-opacity="0.07"/><path d="M377.2 204.6L389.2 230.2" stroke-width="5.1" stroke-opacity="0.07"/><path d="M405.3 199.6L420 226.2" stroke-width="5.1" stroke-opacity="0.07"/><path d="M429.3 192.8L439.2 215.3" stroke-width="5.1" stroke-opacity="0.07"/><path d="M449 208.3L463.3 235" stroke-width="4.7" stroke-opacity="0.07"/><path d="M479.5 216.6L491 243.1" stroke-width="4.8" stroke-opacity="0.07"/><path d="M499.3 218.6L512.3 244.8" stroke-width="5.2" stroke-opacity="0.07"/><path d="M518.1 213.6L530.8 240.5" stroke-width="5.3" stroke-opacity="0.07"/><path d="M538 205.5L547.3 225.2" stroke-width="5" stroke-opacity="0.07"/><path d="M554.7 217.1L564.6 239" stroke-width="5.3" stroke-opacity="0.07"/><path d="M580.8 195.9L593.7 219.9" stroke-width="4.7" stroke-opacity="0.07"/><path d="M605 201.9L616.3 220.6" stroke-width="4.8" stroke-opacity="0.07"/><path d="M627.9 207.8L639.1 231.2" stroke-width="4.5" stroke-opacity="0.07"/><path d="M644.9 214.5L657.2 242" stroke-width="4.9" stroke-opacity="0.07"/><path d="M666.1 207.5L675.7 225.6" stroke-width="5.4" stroke-opacity="0.07"/><path d="M682.5 193.5L693 214.7" stroke-width="4.5" stroke-opacity="0.07"/><path d="M702.1 203.3L710.8 223.9" stroke-width="5.3" stroke-opacity="0.07"/><path d="M729.4 216.6L741.5 241.2" stroke-width="4.6" stroke-opacity="0.07"/><path d="M750.1 202.8L766.3 230.7" stroke-width="4.8" stroke-opacity="0.07"/><path d="M779 218.6L788.1 237.5" stroke-width="5.1" stroke-opacity="0.07"/><path d="M798.3 214.9L810.2 237.5" stroke-width="4.7" stroke-opacity="0.07"/><path d="M820.3 209.6L831.3 231.6" stroke-width="4.8" stroke-opacity="0.07"/><path d="M845.7 205.9L858.6 230.2" stroke-width="5.3" stroke-opacity="0.07"/><path d="M869.9 209.9L885.8 237.1" stroke-width="4.8" stroke-opacity="0.07"/><path d="M888 193.2L899.8 217" stroke-width="5" stroke-opacity="0.07"/><path d="M904.3 196.5L919.7 223.4" stroke-width="5.4" stroke-opacity="0.07"/><path d="M925.1 191.8L936.6 218.9" stroke-width="4.8" stroke-opacity="0.07"/><path d="M943.7 209.7L956.1 232" stroke-width="4.8" stroke-opacity="0.07"/><path d="M971.4 201.7L985.2 225.8" stroke-width="4.9" stroke-opacity="0.07"/><path d="M993.3 202.9L1005.5 228.4" stroke-width="5.1" stroke-opacity="0.07"/><path d="M1018.9 215L1030.9 237" stroke-width="5.1" stroke-opacity="0.07"/><path d="M1049.9 204.7L1058.3 224.3" stroke-width="5.1" stroke-opacity="0.07"/><path d="M1074.2 201.9L1085.8 225.2" stroke-width="4.9" stroke-opacity="0.07"/><path d="M1103 200.1L1112.1 220.8" stroke-width="4.7" stroke-opacity="0.07"/><path d="M1129 205.9L1142.4 230.4" stroke-width="4.6" stroke-opacity="0.07"/><path d="M1156.8 207.9L1167 230.1" stroke-width="5" stroke-opacity="0.07"/><path d="M1177.6 208.4L1187.1 227.2" stroke-width="4.7" stroke-opacity="0.07"/><path d="M1194.4 195.1L1203.6 215.3" stroke-width="5.1" stroke-opacity="0.07"/><path d="M1216.6 206.7L1228.3 228" stroke-width="4.5" stroke-opacity="0.07"/><path d="M1242.2 190.6L1258.1 218.6" stroke-width="5.2" stroke-opacity="0.07"/><path d="M1268.1 205.1L1279.7 230.3" stroke-width="5.1" stroke-opacity="0.07"/><path d="M1293.9 214.7L1302.6 234.1" stroke-width="4.8" stroke-opacity="0.07"/><path d="M1315.3 207.8L1327.9 231.8" stroke-width="5.2" stroke-opacity="0.07"/><path d="M1338.5 209.6L1350.5 232.8" stroke-width="4.5" stroke-opacity="0.07"/><path d="M1357.8 208.5L1370.2 230.5" stroke-width="5.1" stroke-opacity="0.07"/><path d="M1383 197.1L1395.8 221.6" stroke-width="4.8" stroke-opacity="0.07"/><path d="M1412.1 212.2L1426.4 237.6" stroke-width="4.7" stroke-opacity="0.07"/><path d="M1441.2 198.6L1456 225.9" stroke-width="5.3" stroke-opacity="0.07"/><path d="M1463.2 198.1L1478.5 224.5" stroke-width="5.3" stroke-opacity="0.07"/><path d="M1480.6 191L1494.4 217.9" stroke-width="4.5" stroke-opacity="0.07"/><path d="M1501.7 216.2L1512.2 240" stroke-width="5.2" stroke-opacity="0.07"/><path d="M1519.8 212L1530.7 234.7" stroke-width="5.1" stroke-opacity="0.07"/><path d="M1537.8 193.3L1551.7 218.4" stroke-width="5.1" stroke-opacity="0.07"/><path d="M1559.1 213L1567.8 232.9" stroke-width="5" stroke-opacity="0.07"/><path d="M1579.3 207L1593.6 231.8" stroke-width="4.9" stroke-opacity="0.07"/><path d="M1603.4 201.3L1614.2 222.1" stroke-width="5" stroke-opacity="0.07"/><path d="M1625.8 216.4L1637.4 243.2" stroke-width="5" stroke-opacity="0.07"/><path d="M1644.4 213.5L1656.5 235.6" stroke-width="4.8" stroke-opacity="0.07"/><path d="M1664.2 198.3L1675.8 220.6" stroke-width="5.1" stroke-opacity="0.07"/><path d="M1684.2 193.2L1696.8 220" stroke-width="4.8" stroke-opacity="0.07"/><path d="M1712 200.3L1727.2 228.1" stroke-width="5.2" stroke-opacity="0.07"/><path d="M1732.9 194.8L1743.2 213.2" stroke-width="5" stroke-opacity="0.07"/><path d="M1749.3 199.2L1760.5 220.8" stroke-width="4.6" stroke-opacity="0.07"/><path d="M1769.5 207.2L1784 234.5" stroke-width="4.9" stroke-opacity="0.07"/><path d="M1799.9 216.9L1813.1 240.9" stroke-width="4.5" stroke-opacity="0.07"/><path d="M1819.9 207.5L1831.9 234.7" stroke-width="5" stroke-opacity="0.07"/><path d="M1847 193.2L1862.6 220.5" stroke-width="4.6" stroke-opacity="0.07"/><path d="M1877.5 202.7L1888 227.4" stroke-width="5.3" stroke-opacity="0.07"/><path d="M1905.4 203.6L1914 222.5" stroke-width="5.1" stroke-opacity="0.07"/></g><g filter="url(#bl15)" stroke="#fff" stroke-linecap="round" fill="none"><path d="M909.7 210.5L915.1 220.9" stroke-width="3.8" stroke-opacity="0.23"/><path d="M903.8 192.5L908.3 184.5" stroke-width="3.2" stroke-opacity="0.149"/><path d="M934.5 206.9L939.5 217.1" stroke-width="3.3" stroke-opacity="0.15"/><path d="M931.2 194.7L934.3 186.7" stroke-width="3.2" stroke-opacity="0.164"/><path d="M960.7 209.4L968.1 224.6" stroke-width="3.1" stroke-opacity="0.15"/><path d="M958.1 197.9L962.3 189.9" stroke-width="3.2" stroke-opacity="0.114"/><path d="M983 197.7L990.4 213.7" stroke-width="3.9" stroke-opacity="0.5"/><path d="M982.4 190L986.6 182" stroke-width="3.2" stroke-opacity="0.13"/><path d="M996 216L1002 228" stroke-width="3.7" stroke-opacity="0.15"/><path d="M1022.9 217.8L1029.7 230.8" stroke-width="3.8" stroke-opacity="0.15"/><path d="M1019.7 206.7L1022.8 198.7" stroke-width="3.2" stroke-opacity="0.197"/><path d="M1055.8 215.1L1063.8 231.1" stroke-width="3.1" stroke-opacity="0.5"/><path d="M1079.3 215.2L1087.3 228.8" stroke-width="3.2" stroke-opacity="0.09"/><path d="M1099.5 211.5L1106.7 227.3" stroke-width="3" stroke-opacity="0.42"/><path d="M1099 203.8L1103.7 195.8" stroke-width="3.2" stroke-opacity="0.201"/><path d="M1123.8 210.2L1129.6 221.2" stroke-width="4" stroke-opacity="0.23"/><path d="M1120.3 197L1125.1 189" stroke-width="3.2" stroke-opacity="0.167"/><path d="M1151.4 210.1L1159 223.7" stroke-width="3.5" stroke-opacity="0.23"/><path d="M1146.2 195.4L1150.2 187.4" stroke-width="3.2" stroke-opacity="0.141"/><path d="M1176.2 210.3L1183.8 223.5" stroke-width="3.2" stroke-opacity="0.23"/><path d="M1170.4 194.9L1174.4 186.9" stroke-width="3.2" stroke-opacity="0.198"/><path d="M1206.2 222.9L1213.2 235.7" stroke-width="3.5" stroke-opacity="0.15"/><path d="M1200.4 206.9L1203.7 198.9" stroke-width="3.2" stroke-opacity="0.132"/><path d="M1217 203.1L1222.2 213.3" stroke-width="3.3" stroke-opacity="0.23"/><path d="M1213.4 190.6L1217.1 182.6" stroke-width="3.2" stroke-opacity="0.188"/><path d="M1228.9 223.3L1235.1 235.3" stroke-width="3.7" stroke-opacity="0.15"/><path d="M1223.7 206.9L1228.3 198.9" stroke-width="3.2" stroke-opacity="0.157"/><path d="M1247.9 208.5L1255.7 222.9" stroke-width="4" stroke-opacity="0.23"/><path d="M1246.7 200.5L1250.6 192.5" stroke-width="3.2" stroke-opacity="0.153"/><path d="M1278 202.9L1285 216.1" stroke-width="3.9" stroke-opacity="0.15"/><path d="M1318.1 210.6L1324.3 225.6" stroke-width="3.1" stroke-opacity="0.15"/><path d="M1316.5 200L1321 192" stroke-width="3.2" stroke-opacity="0.153"/><path d="M1353 215.2L1358.6 226" stroke-width="3.9" stroke-opacity="0.23"/><path d="M1346.7 197.1L1350.4 189.1" stroke-width="3.2" stroke-opacity="0.152"/><path d="M1377.6 206.5L1383.6 217.5" stroke-width="4" stroke-opacity="0.15"/><path d="M1372.3 191.3L1375.5 183.3" stroke-width="3.2" stroke-opacity="0.198"/><path d="M1402.1 208.7L1408.7 222.7" stroke-width="3.4" stroke-opacity="0.23"/><path d="M1428.7 212.6L1435.3 225.4" stroke-width="3.1" stroke-opacity="0.15"/><path d="M1424.5 198.3L1429.1 190.3" stroke-width="3.2" stroke-opacity="0.182"/><path d="M1449 211L1457 224.4" stroke-width="3.8" stroke-opacity="0.15"/><path d="M1444.1 197.4L1447.9 189.4" stroke-width="3.2" stroke-opacity="0.163"/><path d="M1479.6 218.7L1484 229.1" stroke-width="3.7" stroke-opacity="0.15"/><path d="M1474.5 200L1478.8 192" stroke-width="3.2" stroke-opacity="0.193"/><path d="M1542.6 215.5L1549.4 227.3" stroke-width="3.8" stroke-opacity="0.15"/><path d="M1537.8 201.9L1541.3 193.9" stroke-width="3.2" stroke-opacity="0.15"/><path d="M1555.8 217L1561.4 228.2" stroke-width="3.4" stroke-opacity="0.15"/><path d="M1550.7 200.8L1554.3 192.8" stroke-width="3.2" stroke-opacity="0.135"/><path d="M1585.6 215.8L1593.4 229.4" stroke-width="3.3" stroke-opacity="0.5"/><path d="M1594.8 191.5L1601.2 206.5" stroke-width="3.5" stroke-opacity="0.15"/><path d="M1592.1 179.5L1595.1 171.5" stroke-width="3.2" stroke-opacity="0.138"/><path d="M1682.5 221.1L1687.5 231.5" stroke-width="3.9" stroke-opacity="0.23"/><path d="M1679.5 209.8L1682.3 201.8" stroke-width="3.2" stroke-opacity="0.153"/><path d="M1689.5 199L1694.5 209" stroke-width="3" stroke-opacity="0.15"/><path d="M1707.2 222.9L1712.2 234.7" stroke-width="3.5" stroke-opacity="0.15"/><path d="M1727.2 209L1734.2 223.8" stroke-width="4" stroke-opacity="0.15"/><path d="M1754.8 185.8L1763.2 200.2" stroke-width="3.1" stroke-opacity="0.15"/><path d="M1752.2 175.6L1756.6 167.6" stroke-width="3.2" stroke-opacity="0.115"/><path d="M1780.5 217.3L1785.1 227.9" stroke-width="3" stroke-opacity="0.23"/><path d="M1776.7 201.7L1780.7 193.7" stroke-width="3.2" stroke-opacity="0.126"/><path d="M1808.6 219.3L1816.4 233.3" stroke-width="3.5" stroke-opacity="0.42"/><path d="M1806.5 210L1810.4 202" stroke-width="3.2" stroke-opacity="0.156"/><path d="M1837 212.5L1842.4 225.5" stroke-width="3.9" stroke-opacity="0.15"/><path d="M1835.9 203.6L1839.7 195.6" stroke-width="3.2" stroke-opacity="0.175"/><path d="M1865.4 218.5L1870.6 229.3" stroke-width="3.5" stroke-opacity="0.15"/><path d="M1899.4 210L1906.6 222.8" stroke-width="3.9" stroke-opacity="0.42"/><path d="M197.2 216.4L202.8 228.5" stroke-width="3.9" stroke-opacity="0.15"/><path d="M192.9 201.5L195.9 193.5" stroke-width="3.2" stroke-opacity="0.182"/><path d="M222.7 206.2L229.6 220.1" stroke-width="3.8" stroke-opacity="0.09"/><path d="M243.7 209L249.9 220.8" stroke-width="3.6" stroke-opacity="0.23"/><path d="M237.6 192.4L240.5 184.4" stroke-width="3.2" stroke-opacity="0.156"/><path d="M263.3 201.9L271.4 215.8" stroke-width="3.6" stroke-opacity="0.15"/><path d="M257.2 185.9L261.1 177.9" stroke-width="3.2" stroke-opacity="0.146"/><path d="M296.4 212.7L302.4 226.8" stroke-width="3.9" stroke-opacity="0.09"/><path d="M295 203.3L298.8 195.3" stroke-width="3.2" stroke-opacity="0.07"/><path d="M321.2 219.8L327.9 231.2" stroke-width="3.3" stroke-opacity="0.15"/><path d="M351.9 216.7L358.8 229.7" stroke-width="3.2" stroke-opacity="0.15"/><path d="M349.6 206.6L353.6 198.6" stroke-width="3.2" stroke-opacity="0.113"/><path d="M377.7 212.6L384.9 227.8" stroke-width="3.3" stroke-opacity="0.15"/><path d="M398.8 211.7L405.2 224.3" stroke-width="3.9" stroke-opacity="0.09"/><path d="M428.2 201.6L436.9 216.8" stroke-width="3.8" stroke-opacity="0.15"/><path d="M422.4 186L426.1 178" stroke-width="3.2" stroke-opacity="0.149"/><path d="M457.7 217.6L463.7 229.7" stroke-width="3.8" stroke-opacity="0.15"/><path d="M488.3 216.5L494.6 230.9" stroke-width="4" stroke-opacity="0.15"/><path d="M483.9 200.9L487.4 192.9" stroke-width="3.2" stroke-opacity="0.187"/><path d="M508.7 215.6L514.7 225.8" stroke-width="3.3" stroke-opacity="0.09"/><path d="M535 210.9L540.5 220.9" stroke-width="3.7" stroke-opacity="0.15"/><path d="M527.6 191.8L531.7 183.8" stroke-width="3.2" stroke-opacity="0.187"/><path d="M556.3 207.3L564.1 220.4" stroke-width="3.5" stroke-opacity="0.15"/><path d="M549.9 190.9L554.5 182.9" stroke-width="3.2" stroke-opacity="0.124"/><path d="M581.2 204.5L586.7 216.9" stroke-width="3.5" stroke-opacity="0.09"/><path d="M608.8 210L615.9 222.1" stroke-width="3.2" stroke-opacity="0.15"/><path d="M632.2 208.4L638.1 219.1" stroke-width="3.6" stroke-opacity="0.09"/><path d="M662.1 211.5L667.4 222.7" stroke-width="3.6" stroke-opacity="0.15"/><path d="M657.7 196.9L660.7 188.9" stroke-width="3.2" stroke-opacity="0.191"/><path d="M684.8 201.9L690.3 214.7" stroke-width="3.3" stroke-opacity="0.23"/><path d="M682.7 191.1L686 183.1" stroke-width="3.2" stroke-opacity="0.182"/><path d="M716.1 204.1L721.5 215" stroke-width="3.5" stroke-opacity="0.09"/><path d="M740.9 219.9L745.5 230.4" stroke-width="3.6" stroke-opacity="0.09"/><path d="M735.3 200.9L739.3 192.9" stroke-width="3.2" stroke-opacity="0.092"/><path d="M764.2 218.2L771.8 231.5" stroke-width="3.2" stroke-opacity="0.15"/><path d="M756.7 200.2L759.6 192.2" stroke-width="3.2" stroke-opacity="0.178"/><path d="M787.3 214.2L794.5 228.5" stroke-width="3.6" stroke-opacity="0.23"/><path d="M815.7 214.6L822.2 226.1" stroke-width="3.9" stroke-opacity="0.23"/><path d="M839 214L844.2 225.1" stroke-width="3.8" stroke-opacity="0.15"/><path d="M859.2 214L866.6 226.9" stroke-width="3.3" stroke-opacity="0.09"/><path d="M852.5 196.5L856.7 188.5" stroke-width="3.2" stroke-opacity="0.094"/><path d="M884.1 215.4L890.8 229.4" stroke-width="3.6" stroke-opacity="0.23"/><path d="M200.7 207.3L209.3 222.6" stroke-width="3.8" stroke-opacity="0.09"/><path d="M229.3 209.7L235 219.7" stroke-width="3.2" stroke-opacity="0.09"/><path d="M255.4 214.8L260.9 227.5" stroke-width="4" stroke-opacity="0.09"/><path d="M250.5 196.5L254.9 188.5" stroke-width="3.2" stroke-opacity="0.085"/><path d="M284.6 226.7L290 236.8" stroke-width="3.2" stroke-opacity="0.09"/><path d="M310.4 219.8L316.6 233.5" stroke-width="3.5" stroke-opacity="0.09"/><path d="M328.9 217.6L334.3 230.3" stroke-width="3" stroke-opacity="0.09"/><path d="M356.1 209.5L362.9 221" stroke-width="3.2" stroke-opacity="0.09"/><path d="M379.9 210.4L386.5 224.5" stroke-width="3.7" stroke-opacity="0.09"/><path d="M377.2 198.8L380.8 190.8" stroke-width="3.2" stroke-opacity="0.12"/><path d="M408.6 205.6L416.7 220.2" stroke-width="3.7" stroke-opacity="0.09"/><path d="M404.8 192.5L409.4 184.5" stroke-width="3.2" stroke-opacity="0.078"/><path d="M431.5 197.8L437 210.2" stroke-width="3.7" stroke-opacity="0.09"/><path d="M452.2 214.3L460.1 229" stroke-width="3.3" stroke-opacity="0.09"/><path d="M482.1 222.6L488.4 237.1" stroke-width="3.4" stroke-opacity="0.09"/><path d="M481 214.6L483.9 206.6" stroke-width="3.2" stroke-opacity="0.082"/><path d="M502.2 224.5L509.4 238.9" stroke-width="3.8" stroke-opacity="0.09"/><path d="M521 219.6L527.9 234.5" stroke-width="3.9" stroke-opacity="0.09"/><path d="M540.1 209.9L545.2 220.8" stroke-width="3.6" stroke-opacity="0.09"/><path d="M536.7 195.9L541.4 187.9" stroke-width="3.2" stroke-opacity="0.093"/><path d="M556.9 222L562.4 234" stroke-width="3.9" stroke-opacity="0.09"/><path d="M583.7 201.3L590.8 214.5" stroke-width="3.3" stroke-opacity="0.09"/><path d="M607.6 206.1L613.8 216.4" stroke-width="3.4" stroke-opacity="0.09"/><path d="M630.5 213.1L636.6 225.9" stroke-width="3.1" stroke-opacity="0.09"/><path d="M647.6 220.6L654.4 235.8" stroke-width="3.5" stroke-opacity="0.09"/><path d="M644.7 208.6L647.6 200.6" stroke-width="3.2" stroke-opacity="0.068"/><path d="M668.3 211.5L673.6 221.5" stroke-width="4" stroke-opacity="0.09"/><path d="M663 195.3L667.6 187.3" stroke-width="3.2" stroke-opacity="0.07"/><path d="M684.8 198.2L690.6 209.9" stroke-width="3.1" stroke-opacity="0.09"/><path d="M704.1 207.9L708.9 219.2" stroke-width="3.9" stroke-opacity="0.09"/><path d="M732.1 222.2L738.8 235.7" stroke-width="3.2" stroke-opacity="0.09"/><path d="M753.8 209.1L762.6 224.4" stroke-width="3.4" stroke-opacity="0.09"/><path d="M750 196.8L754.3 188.8" stroke-width="3.2" stroke-opacity="0.094"/><path d="M781 222.8L786 233.2" stroke-width="3.7" stroke-opacity="0.09"/><path d="M775.6 205.1L780 197.1" stroke-width="3.2" stroke-opacity="0.083"/><path d="M801 220L807.5 232.4" stroke-width="3.3" stroke-opacity="0.09"/><path d="M794.9 202.3L799.3 194.3" stroke-width="3.2" stroke-opacity="0.113"/><path d="M822.8 214.6L828.9 226.7" stroke-width="3.4" stroke-opacity="0.09"/><path d="M848.6 211.3L855.7 224.7" stroke-width="3.9" stroke-opacity="0.09"/><path d="M873.4 216L882.2 231" stroke-width="3.4" stroke-opacity="0.09"/><path d="M890.7 198.5L897.1 211.6" stroke-width="3.6" stroke-opacity="0.09"/><path d="M889.1 188.8L893.9 180.8" stroke-width="3.2" stroke-opacity="0.097"/><path d="M907.8 202.6L916.2 217.4" stroke-width="4" stroke-opacity="0.09"/><path d="M927.7 197.9L934 212.8" stroke-width="3.4" stroke-opacity="0.09"/><path d="M924 183.1L927.7 175.1" stroke-width="3.2" stroke-opacity="0.105"/><path d="M946.5 214.7L953.3 227" stroke-width="3.4" stroke-opacity="0.09"/><path d="M942.7 202.3L946.7 194.3" stroke-width="3.2" stroke-opacity="0.103"/><path d="M974.5 207.2L982.1 220.4" stroke-width="3.5" stroke-opacity="0.09"/><path d="M969.7 193.6L973.3 185.6" stroke-width="3.2" stroke-opacity="0.091"/><path d="M996.1 208.7L1002.8 222.7" stroke-width="3.7" stroke-opacity="0.09"/><path d="M994.4 199.7L997.5 191.7" stroke-width="3.2" stroke-opacity="0.093"/><path d="M1021.6 220L1028.2 232" stroke-width="3.7" stroke-opacity="0.09"/><path d="M1051.8 209.1L1056.4 219.9" stroke-width="3.7" stroke-opacity="0.09"/><path d="M1076.8 207.2L1083.2 220" stroke-width="3.5" stroke-opacity="0.09"/><path d="M1075.2 197.4L1080 189.4" stroke-width="3.2" stroke-opacity="0.067"/><path d="M1105 204.8L1110.1 216.2" stroke-width="3.3" stroke-opacity="0.09"/><path d="M1132.1 211.4L1139.4 224.9" stroke-width="3.2" stroke-opacity="0.09"/><path d="M1159.1 212.9L1164.7 225.1" stroke-width="3.6" stroke-opacity="0.09"/><path d="M1156.8 201.9L1160.6 193.9" stroke-width="3.2" stroke-opacity="0.125"/><path d="M1179.7 212.7L1184.9 223" stroke-width="3.3" stroke-opacity="0.09"/><path d="M1177.8 202.5L1182.5 194.5" stroke-width="3.2" stroke-opacity="0.105"/><path d="M1196.5 199.7L1201.6 210.7" stroke-width="3.7" stroke-opacity="0.09"/><path d="M1191.2 182.6L1194.1 174.6" stroke-width="3.2" stroke-opacity="0.097"/><path d="M1219.2 211.5L1225.7 223.2" stroke-width="3.1" stroke-opacity="0.09"/><path d="M1245.7 196.9L1254.5 212.3" stroke-width="3.8" stroke-opacity="0.09"/><path d="M1240.7 181.9L1245.5 173.9" stroke-width="3.2" stroke-opacity="0.084"/><path d="M1270.7 210.8L1277.1 224.7" stroke-width="3.7" stroke-opacity="0.09"/><path d="M1295.9 219.1L1300.7 229.8" stroke-width="3.4" stroke-opacity="0.09"/><path d="M1318.2 213.2L1325.1 226.4" stroke-width="3.8" stroke-opacity="0.09"/><path d="M1314.9 201.4L1318.4 193.4" stroke-width="3.2" stroke-opacity="0.094"/><path d="M1341.2 214.8L1347.8 227.6" stroke-width="3.1" stroke-opacity="0.09"/><path d="M1360.6 213.4L1367.4 225.5" stroke-width="3.7" stroke-opacity="0.09"/><path d="M1385.9 202.6L1392.9 216.1" stroke-width="3.4" stroke-opacity="0.09"/><path d="M1384 193.9L1387.1 185.9" stroke-width="3.2" stroke-opacity="0.082"/><path d="M1415.3 217.9L1423.2 231.9" stroke-width="3.3" stroke-opacity="0.09"/><path d="M1412.8 208.2L1416.2 200.2" stroke-width="3.2" stroke-opacity="0.101"/><path d="M1444.6 204.7L1452.7 219.8" stroke-width="3.9" stroke-opacity="0.09"/><path d="M1440.1 190.8L1444 182.8" stroke-width="3.2" stroke-opacity="0.11"/><path d="M1466.7 204L1475 218.6" stroke-width="3.9" stroke-opacity="0.09"/><path d="M1464 194.6L1466.8 186.6" stroke-width="3.2" stroke-opacity="0.096"/><path d="M1483.7 197.1L1491.3 211.9" stroke-width="3.1" stroke-opacity="0.09"/><path d="M1504.1 221.6L1509.8 234.7" stroke-width="3.8" stroke-opacity="0.09"/><path d="M1522.2 217.1L1528.3 229.5" stroke-width="3.7" stroke-opacity="0.09"/><path d="M1540.9 199L1548.6 212.7" stroke-width="3.7" stroke-opacity="0.09"/><path d="M1534.3 181.1L1538.6 173.1" stroke-width="3.2" stroke-opacity="0.096"/><path d="M1561 217.5L1565.8 228.4" stroke-width="3.6" stroke-opacity="0.09"/><path d="M1556.9 201.4L1561.2 193.4" stroke-width="3.2" stroke-opacity="0.089"/><path d="M1582.5 212.5L1590.4 226.2" stroke-width="3.5" stroke-opacity="0.09"/><path d="M1605.8 206L1611.8 217.4" stroke-width="3.6" stroke-opacity="0.09"/><path d="M1602.1 193.2L1605.9 185.2" stroke-width="3.2" stroke-opacity="0.075"/><path d="M1628.4 222.5L1634.8 237.2" stroke-width="3.6" stroke-opacity="0.09"/><path d="M1647.1 218.4L1653.8 230.6" stroke-width="3.4" stroke-opacity="0.09"/><path d="M1644.2 207.2L1648.1 199.2" stroke-width="3.2" stroke-opacity="0.115"/><path d="M1666.8 203.3L1673.2 215.5" stroke-width="3.7" stroke-opacity="0.09"/><path d="M1687 199.2L1694 214" stroke-width="3.4" stroke-opacity="0.09"/><path d="M1685.8 189.9L1690.5 181.9" stroke-width="3.2" stroke-opacity="0.084"/><path d="M1715.4 206.6L1723.8 221.9" stroke-width="3.8" stroke-opacity="0.09"/><path d="M1712.6 195.6L1716.7 187.6" stroke-width="3.2" stroke-opacity="0.069"/><path d="M1735.2 198.9L1740.9 209.1" stroke-width="3.6" stroke-opacity="0.09"/><path d="M1732.6 188.6L1736.6 180.6" stroke-width="3.2" stroke-opacity="0.125"/><path d="M1751.8 204.1L1758 215.9" stroke-width="3.2" stroke-opacity="0.09"/><path d="M1745 185.9L1748 177.9" stroke-width="3.2" stroke-opacity="0.089"/><path d="M1772.7 213.3L1780.8 228.4" stroke-width="3.5" stroke-opacity="0.09"/><path d="M1802.9 222.3L1810.1 235.5" stroke-width="3.1" stroke-opacity="0.09"/><path d="M1800 211.2L1804.2 203.2" stroke-width="3.2" stroke-opacity="0.096"/><path d="M1822.6 213.6L1829.2 228.6" stroke-width="3.6" stroke-opacity="0.09"/><path d="M1850.5 199.4L1859.1 214.3" stroke-width="3.2" stroke-opacity="0.09"/><path d="M1879.9 208.3L1885.6 221.9" stroke-width="3.9" stroke-opacity="0.09"/><path d="M1877.4 196.6L1880.9 188.6" stroke-width="3.2" stroke-opacity="0.088"/><path d="M1907.3 207.8L1912 218.2" stroke-width="3.7" stroke-opacity="0.09"/><path d="M1904 194.9L1907.2 186.9" stroke-width="3.2" stroke-opacity="0.087"/></g><g filter="url(#bl1)" stroke="#fff" stroke-linecap="round" fill="none"><path d="M911.2 213.3L913.6 218.1" stroke-width="3.2" stroke-opacity="0.32"/><path d="M935.9 209.7L938.1 214.3" stroke-width="2.7" stroke-opacity="0.19"/><path d="M962.7 213.6L966.1 220.4" stroke-width="2.5" stroke-opacity="0.19"/><path d="M985 202.1L988.4 209.3" stroke-width="3.3" stroke-opacity="0.86"/><path d="M997.6 219.3L1000.4 224.7" stroke-width="3.1" stroke-opacity="0.19"/><path d="M1024.7 221.3L1027.9 227.3" stroke-width="3.2" stroke-opacity="0.19"/><path d="M1058 219.5L1061.6 226.7" stroke-width="2.5" stroke-opacity="0.86"/><path d="M1081.5 218.9L1085.1 225.1" stroke-width="2.6" stroke-opacity="0.1"/><path d="M1101.4 215.8L1104.8 223" stroke-width="2.4" stroke-opacity="0.6"/><path d="M1125.4 213.2L1128 218.2" stroke-width="3.4" stroke-opacity="0.32"/><path d="M1153.5 213.8L1156.9 220" stroke-width="2.9" stroke-opacity="0.32"/><path d="M1178.3 213.9L1181.7 219.9" stroke-width="2.6" stroke-opacity="0.32"/><path d="M1208.1 226.4L1211.3 232.2" stroke-width="2.9" stroke-opacity="0.19"/><path d="M1218.4 205.9L1220.8 210.5" stroke-width="2.7" stroke-opacity="0.32"/><path d="M1230.6 226.6L1233.4 232" stroke-width="3.1" stroke-opacity="0.19"/><path d="M1250 212.4L1253.6 219" stroke-width="3.4" stroke-opacity="0.32"/><path d="M1279.9 206.5L1283.1 212.5" stroke-width="3.3" stroke-opacity="0.19"/><path d="M1319.8 214.7L1322.6 221.5" stroke-width="2.5" stroke-opacity="0.19"/><path d="M1354.5 218.2L1357.1 223" stroke-width="3.3" stroke-opacity="0.32"/><path d="M1379.3 209.5L1381.9 214.5" stroke-width="3.4" stroke-opacity="0.19"/><path d="M1403.9 212.5L1406.9 218.9" stroke-width="2.8" stroke-opacity="0.32"/><path d="M1430.5 216.1L1433.5 221.9" stroke-width="2.5" stroke-opacity="0.19"/><path d="M1451.2 214.6L1454.8 220.8" stroke-width="3.2" stroke-opacity="0.19"/><path d="M1480.8 221.5L1482.8 226.3" stroke-width="3.1" stroke-opacity="0.19"/><path d="M1544.4 218.7L1547.6 224.1" stroke-width="3.2" stroke-opacity="0.19"/><path d="M1557.3 220L1559.9 225.2" stroke-width="2.8" stroke-opacity="0.19"/><path d="M1587.7 219.5L1591.3 225.7" stroke-width="2.7" stroke-opacity="0.86"/><path d="M1596.6 195.6L1599.4 202.4" stroke-width="2.9" stroke-opacity="0.19"/><path d="M1683.8 223.9L1686.2 228.7" stroke-width="3.3" stroke-opacity="0.32"/><path d="M1690.9 201.7L1693.1 206.3" stroke-width="2.4" stroke-opacity="0.19"/><path d="M1708.6 226.1L1710.8 231.5" stroke-width="2.9" stroke-opacity="0.19"/><path d="M1729.1 213L1732.3 219.8" stroke-width="3.4" stroke-opacity="0.19"/><path d="M1757.1 189.7L1760.9 196.3" stroke-width="2.5" stroke-opacity="0.19"/><path d="M1781.8 220.2L1783.8 225" stroke-width="2.4" stroke-opacity="0.32"/><path d="M1810.7 223.1L1814.3 229.5" stroke-width="2.9" stroke-opacity="0.6"/><path d="M1838.5 216L1840.9 222" stroke-width="3.3" stroke-opacity="0.19"/><path d="M1866.8 221.4L1869.2 226.4" stroke-width="2.9" stroke-opacity="0.19"/><path d="M1901.3 213.5L1904.7 219.3" stroke-width="3.3" stroke-opacity="0.6"/><path d="M198.7 219.7L201.3 225.2" stroke-width="3.3" stroke-opacity="0.19"/><path d="M224.6 210L227.8 216.3" stroke-width="3.2" stroke-opacity="0.1"/><path d="M245.4 212.2L248.2 217.6" stroke-width="3" stroke-opacity="0.32"/><path d="M265.5 205.7L269.2 212" stroke-width="3" stroke-opacity="0.19"/><path d="M298 216.5L300.7 222.9" stroke-width="3.3" stroke-opacity="0.1"/><path d="M323.1 222.9L326.1 228.1" stroke-width="2.7" stroke-opacity="0.19"/><path d="M353.8 220.2L356.9 226.1" stroke-width="2.6" stroke-opacity="0.19"/><path d="M379.6 216.7L382.9 223.6" stroke-width="2.7" stroke-opacity="0.19"/><path d="M400.6 215.1L403.4 220.9" stroke-width="3.3" stroke-opacity="0.1"/><path d="M430.6 205.7L434.5 212.6" stroke-width="3.2" stroke-opacity="0.19"/><path d="M459.3 220.9L462.1 226.4" stroke-width="3.2" stroke-opacity="0.19"/><path d="M490 220.4L492.9 227" stroke-width="3.4" stroke-opacity="0.19"/><path d="M510.3 218.4L513 223.1" stroke-width="2.7" stroke-opacity="0.1"/><path d="M536.5 213.6L539 218.1" stroke-width="3.1" stroke-opacity="0.19"/><path d="M558.4 210.9L561.9 216.8" stroke-width="2.9" stroke-opacity="0.19"/><path d="M582.7 207.9L585.2 213.5" stroke-width="2.9" stroke-opacity="0.1"/><path d="M610.7 213.3L613.9 218.8" stroke-width="2.6" stroke-opacity="0.19"/><path d="M633.8 211.3L636.5 216.2" stroke-width="3" stroke-opacity="0.1"/><path d="M663.6 214.6L666 219.7" stroke-width="3" stroke-opacity="0.19"/><path d="M686.3 205.3L688.8 211.2" stroke-width="2.7" stroke-opacity="0.32"/><path d="M717.5 207.1L720 212" stroke-width="2.9" stroke-opacity="0.1"/><path d="M742.1 222.7L744.3 227.5" stroke-width="3" stroke-opacity="0.1"/><path d="M766.3 221.8L769.7 227.9" stroke-width="2.6" stroke-opacity="0.19"/><path d="M789.3 218.1L792.5 224.6" stroke-width="3" stroke-opacity="0.32"/><path d="M817.5 217.7L820.4 222.9" stroke-width="3.3" stroke-opacity="0.32"/><path d="M840.5 217L842.8 222" stroke-width="3.2" stroke-opacity="0.19"/><path d="M861.3 217.5L864.6 223.4" stroke-width="2.7" stroke-opacity="0.1"/><path d="M885.9 219.2L889 225.6" stroke-width="3" stroke-opacity="0.32"/><path d="M203 211.5L207 218.4" stroke-width="3.2" stroke-opacity="0.1"/><path d="M230.9 212.4L233.5 216.9" stroke-width="2.6" stroke-opacity="0.1"/><path d="M256.9 218.2L259.4 224.1" stroke-width="3.4" stroke-opacity="0.1"/><path d="M286.1 229.5L288.6 234" stroke-width="2.6" stroke-opacity="0.1"/><path d="M312 223.5L314.9 229.8" stroke-width="2.9" stroke-opacity="0.1"/><path d="M330.4 221.1L332.9 226.9" stroke-width="2.4" stroke-opacity="0.1"/><path d="M357.9 212.6L361 217.8" stroke-width="2.6" stroke-opacity="0.1"/><path d="M381.7 214.2L384.7 220.6" stroke-width="3.1" stroke-opacity="0.1"/><path d="M410.8 209.6L414.5 216.2" stroke-width="3.1" stroke-opacity="0.1"/><path d="M433 201.2L435.5 206.8" stroke-width="3.1" stroke-opacity="0.1"/><path d="M454.4 218.3L457.9 225" stroke-width="2.7" stroke-opacity="0.1"/><path d="M483.8 226.6L486.7 233.2" stroke-width="2.8" stroke-opacity="0.1"/><path d="M504.2 228.4L507.4 235" stroke-width="3.2" stroke-opacity="0.1"/><path d="M522.9 223.7L526 230.4" stroke-width="3.3" stroke-opacity="0.1"/><path d="M541.5 212.9L543.8 217.8" stroke-width="3" stroke-opacity="0.1"/><path d="M558.4 225.3L560.9 230.8" stroke-width="3.3" stroke-opacity="0.1"/><path d="M585.7 204.9L588.9 210.9" stroke-width="2.7" stroke-opacity="0.1"/><path d="M609.3 208.9L612.1 213.6" stroke-width="2.8" stroke-opacity="0.1"/><path d="M632.1 216.6L634.9 222.4" stroke-width="2.5" stroke-opacity="0.1"/><path d="M649.5 224.8L652.6 231.6" stroke-width="2.9" stroke-opacity="0.1"/><path d="M669.7 214.3L672.1 218.8" stroke-width="3.4" stroke-opacity="0.1"/><path d="M686.4 201.4L689.1 206.7" stroke-width="2.5" stroke-opacity="0.1"/><path d="M705.4 211L707.6 216.1" stroke-width="3.3" stroke-opacity="0.1"/><path d="M734 225.8L737 232" stroke-width="2.6" stroke-opacity="0.1"/><path d="M756.2 213.2L760.2 220.2" stroke-width="2.8" stroke-opacity="0.1"/><path d="M782.4 225.7L784.7 230.4" stroke-width="3.1" stroke-opacity="0.1"/><path d="M802.8 223.4L805.7 229" stroke-width="2.7" stroke-opacity="0.1"/><path d="M824.5 217.9L827.2 223.4" stroke-width="2.8" stroke-opacity="0.1"/><path d="M850.5 215L853.8 221.1" stroke-width="3.3" stroke-opacity="0.1"/><path d="M875.8 220.1L879.8 226.9" stroke-width="2.8" stroke-opacity="0.1"/><path d="M892.4 202.1L895.4 208.1" stroke-width="3" stroke-opacity="0.1"/><path d="M910.1 206.6L913.9 213.3" stroke-width="3.4" stroke-opacity="0.1"/><path d="M929.4 202L932.3 208.8" stroke-width="2.8" stroke-opacity="0.1"/><path d="M948.3 218L951.4 223.6" stroke-width="2.8" stroke-opacity="0.1"/><path d="M976.6 210.8L980 216.8" stroke-width="2.9" stroke-opacity="0.1"/><path d="M997.9 212.5L1000.9 218.8" stroke-width="3.1" stroke-opacity="0.1"/><path d="M1023.4 223.2L1026.4 228.7" stroke-width="3.1" stroke-opacity="0.1"/><path d="M1053.1 212.1L1055.2 217" stroke-width="3.1" stroke-opacity="0.1"/><path d="M1078.6 210.7L1081.5 216.5" stroke-width="2.9" stroke-opacity="0.1"/><path d="M1106.4 207.9L1108.7 213.1" stroke-width="2.7" stroke-opacity="0.1"/><path d="M1134.1 215.1L1137.4 221.2" stroke-width="2.6" stroke-opacity="0.1"/><path d="M1160.6 216.2L1163.2 221.7" stroke-width="3" stroke-opacity="0.1"/><path d="M1181.1 215.5L1183.5 220.2" stroke-width="2.7" stroke-opacity="0.1"/><path d="M1197.9 202.7L1200.2 207.7" stroke-width="3.1" stroke-opacity="0.1"/><path d="M1221 214.7L1223.9 220" stroke-width="2.5" stroke-opacity="0.1"/><path d="M1248.1 201.1L1252.1 208.1" stroke-width="3.2" stroke-opacity="0.1"/><path d="M1272.5 214.6L1275.3 220.9" stroke-width="3.1" stroke-opacity="0.1"/><path d="M1297.2 222L1299.4 226.9" stroke-width="2.8" stroke-opacity="0.1"/><path d="M1320 216.8L1323.2 222.8" stroke-width="3.2" stroke-opacity="0.1"/><path d="M1343 218.3L1346 224.1" stroke-width="2.5" stroke-opacity="0.1"/><path d="M1362.4 216.7L1365.5 222.2" stroke-width="3.1" stroke-opacity="0.1"/><path d="M1387.8 206.3L1391 212.4" stroke-width="2.8" stroke-opacity="0.1"/><path d="M1417.5 221.7L1421 228.1" stroke-width="2.7" stroke-opacity="0.1"/><path d="M1446.8 208.8L1450.5 215.6" stroke-width="3.3" stroke-opacity="0.1"/><path d="M1468.9 208L1472.7 214.6" stroke-width="3.3" stroke-opacity="0.1"/><path d="M1485.8 201.1L1489.2 207.8" stroke-width="2.5" stroke-opacity="0.1"/><path d="M1505.6 225.1L1508.3 231.1" stroke-width="3.2" stroke-opacity="0.1"/><path d="M1523.9 220.5L1526.6 226.1" stroke-width="3.1" stroke-opacity="0.1"/><path d="M1543 202.7L1546.5 209" stroke-width="3.1" stroke-opacity="0.1"/><path d="M1562.3 220.5L1564.5 225.5" stroke-width="3" stroke-opacity="0.1"/><path d="M1584.7 216.3L1588.3 222.5" stroke-width="2.9" stroke-opacity="0.1"/><path d="M1607.4 209.1L1610.1 214.3" stroke-width="3" stroke-opacity="0.1"/><path d="M1630.2 226.5L1633.1 233.2" stroke-width="3" stroke-opacity="0.1"/><path d="M1649 221.8L1652 227.3" stroke-width="2.8" stroke-opacity="0.1"/><path d="M1668.5 206.6L1671.4 212.2" stroke-width="3.1" stroke-opacity="0.1"/><path d="M1688.9 203.2L1692.1 209.9" stroke-width="2.8" stroke-opacity="0.1"/><path d="M1717.7 210.8L1721.5 217.7" stroke-width="3.2" stroke-opacity="0.1"/><path d="M1736.8 201.7L1739.4 206.3" stroke-width="3" stroke-opacity="0.1"/><path d="M1753.5 207.3L1756.3 212.7" stroke-width="2.6" stroke-opacity="0.1"/><path d="M1774.9 217.4L1778.6 224.3" stroke-width="2.9" stroke-opacity="0.1"/><path d="M1804.8 225.9L1808.1 231.9" stroke-width="2.5" stroke-opacity="0.1"/><path d="M1824.4 217.7L1827.4 224.5" stroke-width="3" stroke-opacity="0.1"/><path d="M1852.8 203.4L1856.7 210.2" stroke-width="2.6" stroke-opacity="0.1"/><path d="M1881.4 212L1884.1 218.2" stroke-width="3.3" stroke-opacity="0.1"/><path d="M1908.6 210.7L1910.8 215.4" stroke-width="3.1" stroke-opacity="0.1"/></g><path d="M90.8 83.1L300.1 83.1L240.1 103.1L234.2 110.2L228.5 117.3L223.2 124.4L218.1 131.5L213.4 138.7L208.9 145.8L204.8 152.9L200.9 160L197.4 167.1L194.1 174.2L191.1 181.4L188.5 188.5L186.1 195.6L184.1 202.7L182.3 209.8L180.9 216.9L179.7 224.1L178.8 231.2L178.3 238.3L178 245.4L178.1 252.5L178.4 259.6L179 266.8L180 273.9L181.2 281L182.8 288.1L184.6 295.2L186.7 302.3L189.2 309.4L191.9 316.6L194.9 323.7L198.3 330.8L201.9 337.9L205.8 345L210.1 352.1L214.6 359.3L219.4 366.4L224.6 373.5L230 380.6L290 400.6L90.8 400.6Z" fill="#050505" filter="url(#bl5)"/></g></g><g clip-path="url(#cp1)"><g filter="url(#jet)"><rect x="105.8" y="833.5" width="1815.2" height="626.6" fill="#000"/><g transform="skewX(18)"><rect x="-800" y="912.4" width="3000" height="265.2" fill="url(#eB)" filter="url(#tB)"/></g><g style="mix-blend-mode:multiply"><g transform="skewX(-28)"><rect x="-800" y="912.4" width="3000" height="98.7" fill="url(#cB)" filter="url(#uB)"/></g></g><g filter="url(#bl3)" stroke="#fff" stroke-linecap="round" fill="none"><path d="M1577.3 1015L1589.3 1055" stroke-width="8" stroke-opacity="0.35"/><path d="M1311.4 1011.3L1318.6 1035.3" stroke-width="7" stroke-opacity="0.3"/><path d="M1306.4 1031L1313.6 1055" stroke-width="7" stroke-opacity="0.3"/><path d="M1396.4 1011.3L1403.6 1035.3" stroke-width="7" stroke-opacity="0.3"/><path d="M1475 1024L1481 1044" stroke-width="6.8" stroke-opacity="0.2"/><path d="M1807 1026.7L1813 1046.7" stroke-width="6.8" stroke-opacity="0.2"/><path d="M1673.7 1020L1679.7 1040" stroke-width="6.8" stroke-opacity="0.2"/><path d="M1497 1008L1503 1028" stroke-width="6.8" stroke-opacity="0.2"/><path d="M1893.7 1011.7L1899.7 1031.7" stroke-width="6.8" stroke-opacity="0.2"/><path d="M1722 1010L1728 1030" stroke-width="6.8" stroke-opacity="0.2"/><path d="M1630 1020L1636 1040" stroke-width="6.8" stroke-opacity="0.2"/><path d="M1092 1013L1098 1033" stroke-width="6.8" stroke-opacity="0.2"/><path d="M1050 1020L1056 1040" stroke-width="6.8" stroke-opacity="0.2"/><path d="M977 996.7L983 1016.7" stroke-width="6.8" stroke-opacity="0.2"/><path d="M867 1003L873 1023" stroke-width="6.8" stroke-opacity="0.2"/><path d="M1273.7 1013.3L1279.7 1033.3" stroke-width="6.8" stroke-opacity="0.2"/><path d="M1200 1024L1206 1044" stroke-width="6.8" stroke-opacity="0.2"/><path d="M987 1023L993 1043" stroke-width="6.8" stroke-opacity="0.2"/><path d="M1349 1017L1355 1037" stroke-width="6.8" stroke-opacity="0.2"/></g><g filter="url(#bl15)" stroke="#fff" stroke-linecap="round" fill="none"><path d="M1579.7 1023L1586.9 1047" stroke-width="5.5" stroke-opacity="0.55"/><path d="M1312.8 1016.1L1317.2 1030.5" stroke-width="4.5" stroke-opacity="0.45"/><path d="M1307.8 1035.8L1312.2 1050.2" stroke-width="4.5" stroke-opacity="0.45"/><path d="M1397.8 1016.1L1402.2 1030.5" stroke-width="4.5" stroke-opacity="0.45"/><path d="M1476.2 1028L1479.8 1040" stroke-width="4.3" stroke-opacity="0.3"/><path d="M1808.2 1030.7L1811.8 1042.7" stroke-width="4.3" stroke-opacity="0.3"/><path d="M1674.9 1024L1678.5 1036" stroke-width="4.3" stroke-opacity="0.3"/><path d="M1498.2 1012L1501.8 1024" stroke-width="4.3" stroke-opacity="0.3"/><path d="M1894.9 1015.7L1898.5 1027.7" stroke-width="4.3" stroke-opacity="0.3"/><path d="M1723.2 1014L1726.8 1026" stroke-width="4.3" stroke-opacity="0.3"/><path d="M1631.2 1024L1634.8 1036" stroke-width="4.3" stroke-opacity="0.3"/><path d="M1093.2 1017L1096.8 1029" stroke-width="4.3" stroke-opacity="0.3"/><path d="M1051.2 1024L1054.8 1036" stroke-width="4.3" stroke-opacity="0.3"/><path d="M978.2 1000.7L981.8 1012.7" stroke-width="4.3" stroke-opacity="0.3"/><path d="M868.2 1007L871.8 1019" stroke-width="4.3" stroke-opacity="0.3"/><path d="M1274.9 1017.3L1278.5 1029.3" stroke-width="4.3" stroke-opacity="0.3"/><path d="M1201.2 1028L1204.8 1040" stroke-width="4.3" stroke-opacity="0.3"/><path d="M988.2 1027L991.8 1039" stroke-width="4.3" stroke-opacity="0.3"/><path d="M1350.2 1021L1353.8 1033" stroke-width="4.3" stroke-opacity="0.3"/></g><g filter="url(#bl1)" stroke="#fff" stroke-linecap="round" fill="none"><path d="M1581.5 1029L1585.1 1041" stroke-width="4.4" stroke-opacity="0.85"/><path d="M1313.9 1019.7L1316.1 1026.9" stroke-width="3.4" stroke-opacity="0.7"/><path d="M1308.9 1039.4L1311.1 1046.6" stroke-width="3.4" stroke-opacity="0.7"/><path d="M1398.9 1019.7L1401.1 1026.9" stroke-width="3.4" stroke-opacity="0.7"/><path d="M1477.1 1031L1478.9 1037" stroke-width="3.2" stroke-opacity="0.42"/><path d="M1809.1 1033.7L1810.9 1039.7" stroke-width="3.2" stroke-opacity="0.42"/><path d="M1675.8 1027L1677.6 1033" stroke-width="3.2" stroke-opacity="0.42"/><path d="M1499.1 1015L1500.9 1021" stroke-width="3.2" stroke-opacity="0.42"/><path d="M1895.8 1018.7L1897.6 1024.7" stroke-width="3.2" stroke-opacity="0.42"/><path d="M1724.1 1017L1725.9 1023" stroke-width="3.2" stroke-opacity="0.42"/><path d="M1632.1 1027L1633.9 1033" stroke-width="3.2" stroke-opacity="0.42"/><path d="M1094.1 1020L1095.9 1026" stroke-width="3.2" stroke-opacity="0.42"/><path d="M1052.1 1027L1053.9 1033" stroke-width="3.2" stroke-opacity="0.42"/><path d="M979.1 1003.7L980.9 1009.7" stroke-width="3.2" stroke-opacity="0.42"/><path d="M869.1 1010L870.9 1016" stroke-width="3.2" stroke-opacity="0.42"/><path d="M1275.8 1020.3L1277.6 1026.3" stroke-width="3.2" stroke-opacity="0.42"/><path d="M1202.1 1031L1203.9 1037" stroke-width="3.2" stroke-opacity="0.42"/><path d="M989.1 1030L990.9 1036" stroke-width="3.2" stroke-opacity="0.42"/><path d="M1351.1 1024L1352.9 1030" stroke-width="3.2" stroke-opacity="0.42"/></g><path d="M90.8 880L288.1 880L228.1 900L221.8 907.6L215.8 915.2L210.1 922.8L204.8 930.4L199.9 938L195.2 945.6L190.9 953.2L187 960.8L183.4 968.3L180.1 975.9L177.2 983.5L174.6 991.1L172.3 998.7L170.4 1006.3L168.9 1013.9L167.6 1021.5L166.7 1029.1L166.2 1036.7L166 1044.2L166.1 1051.8L166.6 1059.4L167.4 1067L168.6 1074.6L170.1 1082.2L171.9 1089.8L174.1 1097.4L176.7 1105L179.5 1112.6L182.7 1120.2L186.3 1127.7L190.2 1135.3L194.4 1142.9L199 1150.5L203.9 1158.1L209.1 1165.7L214.7 1173.3L220.6 1180.9L226.9 1188.5L233.5 1196.1L293.5 1216.1L90.8 1216.1Z" fill="#000" filter="url(#bl5)"/></g></g><rect x="2028.9" y="41.4" width="31.1" height="616.8" fill="url(#cbg)"/><rect x="2028.9" y="838.5" width="31.1" height="616.6" fill="url(#cbg)"/></svg>
<svg width="2099" height="1557" viewBox="0 0 755.64 560.52" style="position:absolute;left:0;top:0"><defs><style type="text/css">*{stroke-linejoin: round; stroke-linecap: butt}</style></defs><g id="figure_1"><g id="patch_1"><path d="M 0 560.52 L 755.64 560.52 L 755.64 0 L 0 0 L 0 560.52 z " style="fill: none"/></g><g id="axes_1"><g id="patch_2"><path d="M 39.888 236.934 L 689.76 236.934 L 689.76 14.904 L 39.888 14.904 L 39.888 236.934 z " style="fill: none"/></g><g id="matplotlib.axis_1"><g id="xtick_1"><g id="line2d_1"><defs><path id="m19c9951105" d="M 0 0 L 0 3.5 " style="stroke: #000000; stroke-width: 0.8"/></defs><g><use href="#m19c9951105" x="39.888" y="236.934" style="stroke: #000000; stroke-width: 0.8"/></g></g><g id="text_1"><text style="font-weight: 700; font-size: 10px" x="0.00 6.84 10.80 17.64" y="0" transform="translate(27.648 251.494)">0.00</text></g></g><g id="xtick_2"><g id="line2d_2"><g><use href="#m19c9951105" x="120.29" y="236.934" style="stroke: #000000; stroke-width: 0.8"/></g></g><g id="text_2"><text style="font-weight: 700; font-size: 10px" x="0.00 6.84 10.80 17.64" y="0" transform="translate(108.049 251.494)">0.25</text></g></g><g id="xtick_3"><g id="line2d_3"><g><use href="#m19c9951105" x="200.691" y="236.934" style="stroke: #000000; stroke-width: 0.8"/></g></g><g id="text_3"><text style="font-weight: 700; font-size: 10px" x="0.00 6.84 10.80 17.64" y="0" transform="translate(188.451 251.494)">0.50</text></g></g><g id="xtick_4"><g id="line2d_4"><g><use href="#m19c9951105" x="281.092" y="236.934" style="stroke: #000000; stroke-width: 0.8"/></g></g><g id="text_4"><text style="font-weight: 700; font-size: 10px" x="0.00 6.84 10.80 17.64" y="0" transform="translate(268.853 251.494)">0.75</text></g></g><g id="xtick_5"><g id="line2d_5"><g><use href="#m19c9951105" x="361.494" y="236.934" style="stroke: #000000; stroke-width: 0.8"/></g></g><g id="text_5"><text style="font-weight: 700; font-size: 10px" x="0.00 6.84 10.80 17.64" y="0" transform="translate(349.254 251.494)">1.00</text></g></g><g id="xtick_6"><g id="line2d_6"><g><use href="#m19c9951105" x="441.896" y="236.934" style="stroke: #000000; stroke-width: 0.8"/></g></g><g id="text_6"><text style="font-weight: 700; font-size: 10px" x="0.00 6.84 10.80 17.64" y="0" transform="translate(429.656 251.494)">1.25</text></g></g><g id="xtick_7"><g id="line2d_7"><g><use href="#m19c9951105" x="522.297" y="236.934" style="stroke: #000000; stroke-width: 0.8"/></g></g><g id="text_7"><text style="font-weight: 700; font-size: 10px" x="0.00 6.84 10.80 17.64" y="0" transform="translate(510.057 251.494)">1.50</text></g></g><g id="xtick_8"><g id="line2d_8"><g><use href="#m19c9951105" x="602.698" y="236.934" style="stroke: #000000; stroke-width: 0.8"/></g></g><g id="text_8"><text style="font-weight: 700; font-size: 10px" x="0.00 6.84 10.80 17.64" y="0" transform="translate(590.458 251.494)">1.75</text></g></g><g id="xtick_9"><g id="line2d_9"><g><use href="#m19c9951105" x="683.1" y="236.934" style="stroke: #000000; stroke-width: 0.8"/></g></g><g id="text_9"><text style="font-weight: 700; font-size: 10px" x="0.00 6.84 10.80 17.64" y="0" transform="translate(670.86 251.494)">2.00</text></g></g><g id="text_10"><g transform="translate(346.824 269.354)"><text><tspan x="0.11" y="-0.19" style="font-style: oblique; font-size: 12px">t</tspan><tspan x="5.02 9.72" y="-0.19" style="font-size: 12px">[Ω</tspan><tspan x="18.84" y="-4.75" style="font-size: 8.4px">−</tspan><tspan x="18.92 23.49" y="3.05" style="font-style: oblique; font-size: 8.4px">ci</tspan><tspan x="26.17" y="-4.75" style="font-size: 8.4px">1</tspan><tspan x="32.15" y="-0.19" style="font-size: 12px">]</tspan></text></g></g><g id="text_11"><text style="font-size: 10px" x="0.00 6.48 12.60" y="0" transform="translate(670.68 264.574)">1e5</text></g></g><g id="matplotlib.axis_2"><g id="ytick_1"><g id="line2d_10"><defs><path id="ma3c2208db1" d="M 0 0 L -3.5 0 " style="stroke: #000000; stroke-width: 0.8"/></defs><g><use href="#ma3c2208db1" x="39.888" y="236.934" style="stroke: #000000; stroke-width: 0.8"/></g></g><g id="text_12"><text style="font-weight: 700; font-size: 10px" x="0.00 6.84 10.80" y="0" transform="translate(14.78 241.326)">0.0</text></g></g><g id="ytick_2"><g id="line2d_11"><g><use href="#ma3c2208db1" x="39.888" y="192.528" style="stroke: #000000; stroke-width: 0.8"/></g></g><g id="text_13"><text style="font-weight: 700; font-size: 10px" x="0.00 6.84 10.80" y="0" transform="translate(14.78 196.92)">0.2</text></g></g><g id="ytick_3"><g id="line2d_12"><g><use href="#ma3c2208db1" x="39.888" y="148.122" style="stroke: #000000; stroke-width: 0.8"/></g></g><g id="text_14"><text style="font-weight: 700; font-size: 10px" x="0.00 6.84 10.80" y="0" transform="translate(14.78 152.514)">0.4</text></g></g><g id="ytick_4"><g id="line2d_13"><g><use href="#ma3c2208db1" x="39.888" y="103.716" style="stroke: #000000; stroke-width: 0.8"/></g></g><g id="text_15"><text style="font-weight: 700; font-size: 10px" x="0.00 6.84 10.80" y="0" transform="translate(14.78 108.108)">0.6</text></g></g><g id="ytick_5"><g id="line2d_14"><g><use href="#ma3c2208db1" x="39.888" y="59.31" style="stroke: #000000; stroke-width: 0.8"/></g></g><g id="text_16"><text style="font-weight: 700; font-size: 10px" x="0.00 6.84 10.80" y="0" transform="translate(14.78 63.702)">0.8</text></g></g><g id="ytick_6"><g id="line2d_15"><g><use href="#ma3c2208db1" x="39.888" y="14.904" style="stroke: #000000; stroke-width: 0.8"/></g></g><g id="text_17"><text style="font-weight: 700; font-size: 10px" x="0.00 6.84 10.80" y="0" transform="translate(14.78 19.296)">1.0</text></g></g><g id="text_18"><g transform="translate(8.188 129.159) rotate(-90)"><text><tspan x="0.00" y="-0.00" style="font-style: oblique; font-size: 12px">s</tspan></text></g></g></g><g id="line2d_16"><path d="M 41.116 14.904 L 41.696 20.469 L 42.445 25.477 L 43.234 29.372 L 44.262 33.267 L 45.386 36.606 L 46.535 39.389 L 47.916 42.171 L 49.573 44.953 L 51.129 47.179 L 52.923 49.405 L 54.984 51.631 L 57.347 53.857 L 60.048 56.082 L 63.122 58.308 L 66.607 60.534 L 70.54 62.76 L 74.951 64.986 L 79.866 67.212 L 85.303 69.438 L 91.261 71.664 L 99.417 74.446 L 108.275 77.228 L 121.538 81.123 L 144.504 87.801 L 151.437 90.027 L 157.608 92.253 L 161.59 93.922 L 164.911 95.592 L 166.717 96.705 L 168.172 97.817 L 169.259 98.93 L 169.964 100.043 L 170.281 101.156 L 170.204 102.269 L 169.735 103.382 L 168.88 104.495 L 167.647 105.608 L 166.053 106.721 L 164.116 107.834 L 160.615 109.503 L 156.477 111.173 L 151.799 112.842 L 144.901 115.068 L 133.638 118.407 L 106.852 126.197 L 98.095 128.98 L 90.059 131.762 L 84.201 133.988 L 78.867 136.214 L 74.052 138.439 L 69.736 140.665 L 65.894 142.891 L 62.491 145.117 L 59.493 147.343 L 56.861 149.569 L 54.56 151.795 L 52.553 154.021 L 50.808 156.246 L 48.948 159.029 L 47.395 161.811 L 46.102 164.593 L 45.026 167.376 L 43.975 170.715 L 43.013 174.61 L 42.276 178.505 L 41.576 183.513 L 41.035 189.078 L 40.609 195.756 L 40.275 204.659 L 40.047 217.458 L 39.929 236.934 L 39.929 236.934 " clip-path="url(#pcc20bdd488)" style="fill: none; stroke-dasharray: 11.248,4.864; stroke-dashoffset: 0; stroke: #ff0000; stroke-width: 3.04"/></g><g id="line2d_17"><path d="M 83.952 19.567 L 86.384 26.109 L 88.592 32.652 L 90.578 39.195 L 92.347 45.738 L 93.899 52.281 L 95.238 58.824 L 96.365 65.366 L 97.284 71.909 L 97.997 78.452 L 98.506 84.995 L 98.836 92.265 L 98.921 99.535 L 98.765 106.804 L 98.37 114.074 L 97.741 121.344 L 96.881 128.614 L 95.793 135.884 L 94.482 143.153 L 92.803 151.15 L 90.724 159.874 L 88.228 169.325 L 85.099 180.229 L 81.102 193.315 L 68.025 235.48 L 67.606 236.934 L 67.606 236.934 " clip-path="url(#pcc20bdd488)" style="fill: none; stroke-dasharray: 11.248,4.864; stroke-dashoffset: 0; stroke: #ffffff; stroke-width: 3.04"/></g><g id="line2d_18"><path d="M 43.459 19.567 L 44.496 23.38 L 45.62 26.649 L 46.759 29.373 L 48.121 32.097 L 49.746 34.82 L 51.269 37 L 53.02 39.179 L 55.032 41.358 L 57.339 43.537 L 59.982 45.716 L 63.003 47.895 L 66.45 50.074 L 70.374 52.253 L 74.827 54.433 L 79.866 56.612 L 85.548 58.791 L 91.926 60.97 L 99.052 63.149 L 106.97 65.328 L 115.711 67.507 L 125.29 69.686 L 138.428 72.41 L 152.777 75.134 L 171.341 78.403 L 204.061 83.851 L 226.455 87.664 L 241.05 90.388 L 251.326 92.567 L 257.976 94.202 L 263.561 95.836 L 266.63 96.925 L 269.138 98.015 L 271.06 99.105 L 272.374 100.194 L 272.799 100.739 L 273.067 101.284 L 273.178 101.828 L 273.131 102.373 L 272.927 102.918 L 272.566 103.463 L 272.049 104.008 L 270.554 105.097 L 268.457 106.187 L 265.78 107.276 L 262.551 108.366 L 256.746 110 L 249.902 111.635 L 242.164 113.269 L 230.725 115.448 L 215.152 118.172 L 151.022 129.067 L 136.808 131.791 L 123.821 134.515 L 114.366 136.694 L 105.748 138.874 L 97.95 141.053 L 90.937 143.232 L 84.665 145.411 L 79.082 147.59 L 74.133 149.769 L 69.762 151.948 L 65.912 154.127 L 62.531 156.307 L 59.568 158.486 L 56.978 160.665 L 54.717 162.844 L 52.746 165.023 L 51.03 167.202 L 49.197 169.926 L 47.661 172.65 L 46.374 175.374 L 45.105 178.643 L 44.082 181.911 L 43.137 185.725 L 42.313 190.083 L 41.633 194.986 L 41.054 200.978 L 40.612 208.061 L 40.276 217.322 L 40.049 230.397 L 39.991 236.934 L 39.991 236.934 " clip-path="url(#pcc20bdd488)" style="fill: none; stroke-dasharray: 11.248,4.864; stroke-dashoffset: 0; stroke: #ff7f0e; stroke-width: 3.04"/></g><g id="line2d_19"><path d="M 41.328 18.18 L 41.652 18.504 L 43.56 21.6 L 46.296 25.2 L 47.16 28.08 L 48.348 30.852 L 52.2 34.2 L 56.52 37.08 L 57.06 39.24 L 57.6 41.148 L 63 42.84 L 68.904 44.244 L 72 46.296 L 77.4 47.88 L 83.304 49.32 L 87.948 50.4 L 92.88 51.66 L 98.748 52.92 L 103.896 53.496 L 108 55.548 L 114.12 56.52 L 119.304 57.096 L 124.2 59.04 L 129.096 61.2 L 133.704 62.244 L 138.96 63.36 L 144.54 65.34 L 150.732 66.348 L 154.8 68.76 L 158.94 71.496 L 162 72.54 L 164.52 74.88 L 167.184 76.68 L 166.14 75.6 L 172.8 77.76 L 181.584 80.784 L 169.2 81.36 L 160.92 80.784 L 166.32 82.44 L 171.36 83.88 L 169.2 86.4 L 171.36 88.488 L 180.576 89.532 L 169.2 90.36 L 160.92 91.08 L 154.8 93.6 L 148.68 96.12 L 146.52 97.2 L 142.2 98.28 L 137.34 99.288 L 132.12 101.88 L 126 103.32 L 121.32 104.04 L 116.748 104.76 L 110.52 105.12 L 106.92 108.36 L 103.32 106.92 L 104.4 113.148 L 100.296 116.748 L 96.696 121.32 L 90 123.12 L 84.348 124.452 L 82.08 128.16 L 79.704 131.148 L 75.096 135.72 L 70.56 139.68 L 66.852 142.92 L 64.8 147.096 L 60.48 150.84 L 56.52 154.296 L 52.56 159.12 L 49.896 162 L 47.844 164.52 L 46.08 168.48 L 45 172.08 L 44.28 175.32 L 43.2 178.92 L 42.3 183.6 L 41.76 189 L 41.4 196.2 L 41.04 205.2 L 40.86 216 L 40.68 229.32 " clip-path="url(#pcc20bdd488)" style="fill: none; stroke-dasharray: 11.248,4.864; stroke-dashoffset: 0; stroke: #bf00bf; stroke-width: 3.04"/></g><g id="line2d_20"><path d="M 79.704 16.38 L 42.48 17.1 L 43.56 18.72 L 45 20.52 L 46.08 22.32 L 47.88 24.12 L 50.04 25.74 L 52.56 27.36 L 55.08 29.16 L 57.6 30.96 L 60.48 32.4 L 63.36 33.12 L 68.4 34.56 L 64.08 35.64 L 68.76 37.08 L 72 36.36 L 75.24 36.72 L 81.72 37.44 L 76.68 38.16 L 81.72 38.88 L 83.16 39.96 L 88.2 40.5 L 93.96 40.896 L 99.36 41.22 L 104.76 41.94 L 110.16 42.48 L 115.2 43.56 L 120.6 44.1 L 126 44.496 L 129.96 45.72 L 158.4 45 L 136.8 47.16 L 158.4 47.88 L 153.36 50.04 L 182.16 50.76 L 154.8 52.56 L 182.16 53.64 L 195.84 54 L 219.24 54 L 201.24 55.44 L 219.24 56.16 L 187.56 58.32 L 206.28 59.4 L 190.8 60.12 L 210.96 60.48 L 237.96 60.48 L 253.44 61.2 L 243 62.64 L 224.64 65.16 L 236.52 65.88 L 252 65.52 L 241.2 66.96 L 252 67.68 L 253.08 68.4 L 261 70.2 L 254.16 71.28 L 207.36 72 L 250.92 73.08 L 207.36 74.16 L 250.92 74.88 L 239.4 75.6 L 298.8 77.04 L 252 78.84 L 288 79.56 L 248.4 80.28 L 366.48 81.936 L 284.4 83.34 L 234 84.78 L 180 86.58 L 128.88 89.46 L 136.8 90.36 L 204.84 91.08 L 244.8 93.6 L 196.56 95.04 L 169.56 95.4 L 153.36 96.3 L 136.8 97.38 L 159.48 99.252 L 213.48 101.304 L 174.24 102.24 L 168.84 103.68 L 141.84 104.04 L 127.08 105.3 L 136.8 108 L 144.36 108.54 L 134.28 109.44 L 103.32 112.32 L 128.16 111.24 L 111.6 116.28 L 121.32 118.08 L 103.896 120.24 L 114.12 118.98 L 89.496 122.4 L 98.244 121.32 L 90.504 125.496 L 95.148 126.504 L 94.104 127.08 L 84.852 128.52 L 79.2 130.644 L 69.444 133.704 L 66.348 138.348 L 55.548 142.452 L 57.6 147.096 L 50.904 150.12 L 59.148 156.348 L 49.896 160.92 L 48.24 164.88 L 42.48 169.2 L 43.2 172.8 L 41.76 177.84 L 41.4 187.2 L 41.04 198 L 40.86 208.8 L 40.68 219.96 L 40.68 229.32 " clip-path="url(#pcc20bdd488)" style="fill: none; stroke-dasharray: 11.248,4.864; stroke-dashoffset: 0; stroke: #008000; stroke-width: 3.04"/></g><g id="patch_3"><path d="M 39.888 236.934 L 39.888 14.904 " style="fill: none; stroke: #000000; stroke-width: 0.8; stroke-linejoin: miter; stroke-linecap: square"/></g><g id="patch_4"><path d="M 689.76 236.934 L 689.76 14.904 " style="fill: none; stroke: #000000; stroke-width: 0.8; stroke-linejoin: miter; stroke-linecap: square"/></g><g id="patch_5"><path d="M 39.888 236.934 L 689.76 236.934 " style="fill: none; stroke: #000000; stroke-width: 0.8; stroke-linejoin: miter; stroke-linecap: square"/></g><g id="patch_6"><path d="M 39.888 14.904 L 689.76 14.904 " style="fill: none; stroke: #000000; stroke-width: 0.8; stroke-linejoin: miter; stroke-linecap: square"/></g><g id="text_19"><text style="font-weight: 700; font-size: 10px" x="0.00 4.68 11.52 16.20 19.80 27.00 33.84 37.44 44.28 51.48 58.32 63.36 70.56" y="0" transform="translate(326.124 8.616)">(a) ZF Energy</text></g><g id="legend_1"><g id="patch_7"><path d="M 552.796 233.934 L 684.76 233.934 Q 686.76 233.934 686.76 231.934 L 686.76 156.334 Q 686.76 154.334 684.76 154.334 L 552.796 154.334 Q 550.796 154.334 550.796 156.334 L 550.796 231.934 Q 550.796 233.934 552.796 233.934 z " style="fill: #4d3a3d; opacity: 0.5; stroke: #4d3a3d; stroke-linejoin: miter"/></g><g id="patch_8"><path d="M 550.796 231.934 L 682.76 231.934 Q 684.76 231.934 684.76 229.934 L 684.76 154.334 Q 684.76 152.334 682.76 152.334 L 550.796 152.334 Q 548.796 152.334 548.796 154.334 L 548.796 229.934 Q 548.796 231.934 550.796 231.934 z " style="fill: #ffc0cb; stroke: #ded8f0; stroke-linejoin: miter"/></g><g id="line2d_21" transform="translate(0 0.360)"><path d="M 552.9 160.894 L 562.9 160.894 L 572.9 160.894 " style="fill: none; stroke-dasharray: 11.248,4.864; stroke-dashoffset: 0; stroke: #ff0000; stroke-width: 3.04"/></g><g id="text_20"><g transform="translate(581.656 164.394)"><text><tspan x="0.00" y="-0.00" style="font-style: oblique; font-size: 10px">R</tspan><tspan x="7.00" y="1.62" style="font-size: 7px">0</tspan><tspan x="11.76" y="-0.00" style="font-size: 10px">/</tspan><tspan x="15.16" y="-0.00" style="font-style: oblique; font-size: 10px">L</tspan><tspan x="20.78" y="1.62" style="font-style: oblique; font-size: 7px">T</tspan><tspan x="27.32 34.57 40.99 44.19" y="-0.00" style="font-size: 10px">*1.5</tspan><tspan x="50.61" y="-0.00" style="font-style: oblique; font-size: 10px">e</tspan><tspan x="56.81" y="-0.00" style="font-size: 10px">3</tspan><tspan x="67.02 70.47 77.65 81.10 85.92 89.38 96.18" y="-0.00" style="font-weight: 700; font-size: 10px">initial</tspan></text></g></g><g id="line2d_22" transform="translate(0 0.360)"><path d="M 552.9 176.114 L 562.9 176.114 L 572.9 176.114 " style="fill: none; stroke-dasharray: 11.248,4.864; stroke-dashoffset: 0; stroke: #ffffff; stroke-width: 3.04"/></g><g id="text_21"><g transform="translate(581.656 179.614)"><text><tspan x="0.00" y="-0.00" style="font-style: oblique; font-size: 10px">R</tspan><tspan x="7.00" y="1.62" style="font-size: 7px">0</tspan><tspan x="11.76" y="-0.00" style="font-size: 10px">/</tspan><tspan x="15.16" y="-0.00" style="font-style: oblique; font-size: 10px">L</tspan><tspan x="20.78" y="1.62" style="font-style: oblique; font-size: 7px">n</tspan><tspan x="27.48 34.74" y="-0.00" style="font-size: 10px">*1</tspan><tspan x="41.15" y="-0.00" style="font-style: oblique; font-size: 10px">e</tspan><tspan x="47.35" y="-0.00" style="font-size: 10px">4</tspan><tspan x="57.56 61.02 68.19 71.65 76.47 79.92 86.72" y="-0.00" style="font-weight: 700; font-size: 10px">initial</tspan></text></g></g><g id="line2d_23" transform="translate(0 0.360)"><path d="M 552.9 191.334 L 562.9 191.334 L 572.9 191.334 " style="fill: none; stroke-dasharray: 11.248,4.864; stroke-dashoffset: 0; stroke: #ff7f0e; stroke-width: 3.04"/></g><g id="text_22"><g transform="translate(581.656 194.834)"><text><tspan x="0.00" y="-0.00" style="font-style: oblique; font-size: 10px">η</tspan><tspan x="8.35 15.61 22.02 25.23" y="-0.00" style="font-size: 10px">*1.5</tspan><tspan x="31.64" y="-0.00" style="font-style: oblique; font-size: 10px">e</tspan><tspan x="37.84" y="-0.00" style="font-size: 10px">4</tspan><tspan x="48.05 51.51 58.68 62.14 66.96 70.41 77.21" y="-0.00" style="font-weight: 700; font-size: 10px">initial</tspan></text></g></g><g id="line2d_24" transform="translate(0 0.360)"><path d="M 552.9 206.554 L 562.9 206.554 L 572.9 206.554 " style="fill: none; stroke-dasharray: 11.248,4.864; stroke-dashoffset: 0; stroke: #bf00bf; stroke-width: 3.04"/></g><g id="text_23"><g transform="translate(581.656 210.054)"><text><tspan x="0.00" y="-0.00" style="font-style: oblique; font-size: 10px">R</tspan><tspan x="7.00" y="1.62" style="font-size: 7px">0</tspan><tspan x="11.76" y="-0.00" style="font-size: 10px">/</tspan><tspan x="15.16" y="-0.00" style="font-style: oblique; font-size: 10px">L</tspan><tspan x="20.78" y="1.62" style="font-style: oblique; font-size: 7px">T</tspan><tspan x="27.32 34.57 40.99 44.19" y="-0.00" style="font-size: 10px">*1.5</tspan><tspan x="50.61" y="-0.00" style="font-style: oblique; font-size: 10px">e</tspan><tspan x="56.81" y="-0.00" style="font-size: 10px">3</tspan><tspan x="67.02 71.40 74.86 82.03 88.84" y="-0.00" style="font-weight: 700; font-size: 10px">final</tspan></text></g></g><g id="line2d_25" transform="translate(0 0.360)"><path d="M 552.9 221.774 L 562.9 221.774 L 572.9 221.774 " style="fill: none; stroke-dasharray: 11.248,4.864; stroke-dashoffset: 0; stroke: #008000; stroke-width: 3.04"/></g><g id="text_24"><g transform="translate(581.656 225.274)"><text><tspan x="0.00" y="-0.00" style="font-style: oblique; font-size: 10px">η</tspan><tspan x="8.35 15.61 22.02 25.23" y="-0.00" style="font-size: 10px">*1.5</tspan><tspan x="31.64" y="-0.00" style="font-style: oblique; font-size: 10px">e</tspan><tspan x="37.84" y="-0.00" style="font-size: 10px">4</tspan><tspan x="48.05 52.44 55.89 63.07 69.87" y="-0.00" style="font-weight: 700; font-size: 10px">final</tspan></text></g></g></g></g><g id="axes_2"><g id="patch_9"><path d="M 730.404 236.934 L 741.6 236.934 L 741.6 14.904 L 730.404 14.904 L 730.404 236.934 z " style="fill: none"/></g><g id="matplotlib.axis_3"/><g id="matplotlib.axis_4"><g id="ytick_7"><g id="line2d_26"><defs><path id="med25b5d0b4" d="M 0 0 L 3.5 0 " style="stroke: #000000; stroke-width: 0.8"/></defs><g><use href="#med25b5d0b4" x="741.6" y="232.409" style="stroke: #000000; stroke-width: 0.8"/></g></g><g id="text_25"><text style="font-size: 10px" x="0.00" y="0" transform="translate(748.6 236.189)">0</text></g></g><g id="ytick_8"><g id="line2d_27"><g><use href="#med25b5d0b4" x="741.6" y="190.117" style="stroke: #000000; stroke-width: 0.8"/></g></g><g id="text_26"><text style="font-size: 10px" x="0.00" y="0" transform="translate(748.6 193.897)">1</text></g></g><g id="ytick_9"><g id="line2d_28"><g><use href="#med25b5d0b4" x="741.6" y="147.826" style="stroke: #000000; stroke-width: 0.8"/></g></g><g id="text_27"><text style="font-size: 10px" x="0.00" y="0" transform="translate(748.6 151.606)">2</text></g></g><g id="ytick_10"><g id="line2d_29"><g><use href="#med25b5d0b4" x="741.6" y="105.535" style="stroke: #000000; stroke-width: 0.8"/></g></g><g id="text_28"><text style="font-size: 10px" x="0.00" y="0" transform="translate(748.6 109.315)">3</text></g></g><g id="ytick_11"><g id="line2d_30"><g><use href="#med25b5d0b4" x="741.6" y="63.243" style="stroke: #000000; stroke-width: 0.8"/></g></g><g id="text_29"><text style="font-size: 10px" x="0.00" y="0" transform="translate(748.6 67.023)">4</text></g></g><g id="ytick_12"><g id="line2d_31"><g><use href="#med25b5d0b4" x="741.6" y="20.952" style="stroke: #000000; stroke-width: 0.8"/></g></g><g id="text_30"><text style="font-size: 10px" x="0.00" y="0" transform="translate(748.6 24.732)">5</text></g></g><g id="text_31"><text style="font-size: 10px" x="0.00 6.48 12.60 20.88" y="0" transform="translate(714.24 11.904)">1e−6</text></g></g><g id="patch_10"><path d="M 730.404 236.934 L 730.404 14.904 " style="fill: none; stroke: #000000; stroke-width: 0.8; stroke-linejoin: miter; stroke-linecap: square"/></g><g id="patch_11"><path d="M 741.6 236.934 L 741.6 14.904 " style="fill: none; stroke: #000000; stroke-width: 0.8; stroke-linejoin: miter; stroke-linecap: square"/></g><g id="patch_12"><path d="M 730.404 236.934 L 741.6 236.934 " style="fill: none; stroke: #000000; stroke-width: 0.8; stroke-linejoin: miter; stroke-linecap: square"/></g><g id="patch_13"><path d="M 730.404 14.904 L 741.6 14.904 " style="fill: none; stroke: #000000; stroke-width: 0.8; stroke-linejoin: miter; stroke-linecap: square"/></g></g><g id="axes_3"><g id="patch_14"><path d="M 39.888 523.836 L 689.76 523.836 L 689.76 301.86 L 39.888 301.86 L 39.888 523.836 z " style="fill: none"/></g><g id="matplotlib.axis_5"><g id="xtick_10"><g id="line2d_32"><g><use href="#m19c9951105" x="39.888" y="523.836" style="stroke: #000000; stroke-width: 0.8"/></g></g><g id="text_32"><text style="font-weight: 700; font-size: 10px" x="0.00 6.84 10.80 17.64" y="0" transform="translate(27.648 538.396)">0.00</text></g></g><g id="xtick_11"><g id="line2d_33"><g><use href="#m19c9951105" x="120.29" y="523.836" style="stroke: #000000; stroke-width: 0.8"/></g></g><g id="text_33"><text style="font-weight: 700; font-size: 10px" x="0.00 6.84 10.80 17.64" y="0" transform="translate(108.049 538.396)">0.25</text></g></g><g id="xtick_12"><g id="line2d_34"><g><use href="#m19c9951105" x="200.691" y="523.836" style="stroke: #000000; stroke-width: 0.8"/></g></g><g id="text_34"><text style="font-weight: 700; font-size: 10px" x="0.00 6.84 10.80 17.64" y="0" transform="translate(188.451 538.396)">0.50</text></g></g><g id="xtick_13"><g id="line2d_35"><g><use href="#m19c9951105" x="281.092" y="523.836" style="stroke: #000000; stroke-width: 0.8"/></g></g><g id="text_35"><text style="font-weight: 700; font-size: 10px" x="0.00 6.84 10.80 17.64" y="0" transform="translate(268.853 538.396)">0.75</text></g></g><g id="xtick_14"><g id="line2d_36"><g><use href="#m19c9951105" x="361.494" y="523.836" style="stroke: #000000; stroke-width: 0.8"/></g></g><g id="text_36"><text style="font-weight: 700; font-size: 10px" x="0.00 6.84 10.80 17.64" y="0" transform="translate(349.254 538.396)">1.00</text></g></g><g id="xtick_15"><g id="line2d_37"><g><use href="#m19c9951105" x="441.896" y="523.836" style="stroke: #000000; stroke-width: 0.8"/></g></g><g id="text_37"><text style="font-weight: 700; font-size: 10px" x="0.00 6.84 10.80 17.64" y="0" transform="translate(429.656 538.396)">1.25</text></g></g><g id="xtick_16"><g id="line2d_38"><g><use href="#m19c9951105" x="522.297" y="523.836" style="stroke: #000000; stroke-width: 0.8"/></g></g><g id="text_38"><text style="font-weight: 700; font-size: 10px" x="0.00 6.84 10.80 17.64" y="0" transform="translate(510.057 538.396)">1.50</text></g></g><g id="xtick_17"><g id="line2d_39"><g><use href="#m19c9951105" x="602.698" y="523.836" style="stroke: #000000; stroke-width: 0.8"/></g></g><g id="text_39"><text style="font-weight: 700; font-size: 10px" x="0.00 6.84 10.80 17.64" y="0" transform="translate(590.458 538.396)">1.75</text></g></g><g id="xtick_18"><g id="line2d_40"><g><use href="#m19c9951105" x="683.1" y="523.836" style="stroke: #000000; stroke-width: 0.8"/></g></g><g id="text_40"><text style="font-weight: 700; font-size: 10px" x="0.00 6.84 10.80 17.64" y="0" transform="translate(670.86 538.396)">2.00</text></g></g><g id="text_41"><g transform="translate(346.824 556.256)"><text><tspan x="0.11" y="-0.19" style="font-style: oblique; font-size: 12px">t</tspan><tspan x="5.02 9.72" y="-0.19" style="font-size: 12px">[Ω</tspan><tspan x="18.84" y="-4.75" style="font-size: 8.4px">−</tspan><tspan x="18.92 23.49" y="3.05" style="font-style: oblique; font-size: 8.4px">ci</tspan><tspan x="26.17" y="-4.75" style="font-size: 8.4px">1</tspan><tspan x="32.15" y="-0.19" style="font-size: 12px">]</tspan></text></g></g><g id="text_42"><text style="font-size: 10px" x="0.00 6.48 12.60" y="0" transform="translate(670.68 551.476)">1e5</text></g></g><g id="matplotlib.axis_6"><g id="ytick_13"><g id="line2d_41"><g><use href="#ma3c2208db1" x="39.888" y="523.836" style="stroke: #000000; stroke-width: 0.8"/></g></g><g id="text_43"><text style="font-weight: 700; font-size: 10px" x="0.00 6.84 10.80" y="0" transform="translate(14.78 528.228)">0.0</text></g></g><g id="ytick_14"><g id="line2d_42"><g><use href="#ma3c2208db1" x="39.888" y="479.441" style="stroke: #000000; stroke-width: 0.8"/></g></g><g id="text_44"><text style="font-weight: 700; font-size: 10px" x="0.00 6.84 10.80" y="0" transform="translate(14.78 483.833)">0.2</text></g></g><g id="ytick_15"><g id="line2d_43"><g><use href="#ma3c2208db1" x="39.888" y="435.046" style="stroke: #000000; stroke-width: 0.8"/></g></g><g id="text_45"><text style="font-weight: 700; font-size: 10px" x="0.00 6.84 10.80" y="0" transform="translate(14.78 439.438)">0.4</text></g></g><g id="ytick_16"><g id="line2d_44"><g><use href="#ma3c2208db1" x="39.888" y="390.65" style="stroke: #000000; stroke-width: 0.8"/></g></g><g id="text_46"><text style="font-weight: 700; font-size: 10px" x="0.00 6.84 10.80" y="0" transform="translate(14.78 395.042)">0.6</text></g></g><g id="ytick_17"><g id="line2d_45"><g><use href="#ma3c2208db1" x="39.888" y="346.255" style="stroke: #000000; stroke-width: 0.8"/></g></g><g id="text_47"><text style="font-weight: 700; font-size: 10px" x="0.00 6.84 10.80" y="0" transform="translate(14.78 350.647)">0.8</text></g></g><g id="ytick_18"><g id="line2d_46"><g><use href="#ma3c2208db1" x="39.888" y="301.86" style="stroke: #000000; stroke-width: 0.8"/></g></g><g id="text_48"><text style="font-weight: 700; font-size: 10px" x="0.00 6.84 10.80" y="0" transform="translate(14.78 306.252)">1.0</text></g></g><g id="text_49"><g transform="translate(8.188 416.088) rotate(-90)"><text><tspan x="0.00" y="-0.00" style="font-style: oblique; font-size: 12px">s</tspan></text></g></g></g><g id="line2d_47"><path d="M 41.116 301.86 L 41.696 307.423 L 42.445 312.43 L 43.234 316.325 L 44.262 320.219 L 45.386 323.557 L 46.535 326.339 L 47.916 329.12 L 49.573 331.902 L 51.129 334.127 L 52.923 336.353 L 54.984 338.578 L 57.347 340.803 L 60.048 343.028 L 63.122 345.254 L 66.607 347.479 L 70.54 349.704 L 74.951 351.93 L 79.866 354.155 L 85.303 356.38 L 91.261 358.606 L 99.417 361.387 L 108.275 364.169 L 121.538 368.063 L 144.504 374.739 L 151.437 376.965 L 157.608 379.19 L 161.59 380.859 L 164.911 382.528 L 166.717 383.641 L 168.172 384.753 L 169.259 385.866 L 169.964 386.979 L 170.281 388.091 L 170.204 389.204 L 169.735 390.317 L 168.88 391.429 L 167.647 392.542 L 166.053 393.655 L 164.116 394.767 L 160.615 396.436 L 156.477 398.105 L 151.799 399.774 L 144.901 402 L 133.638 405.338 L 106.852 413.126 L 98.095 415.908 L 90.059 418.689 L 84.201 420.915 L 78.867 423.14 L 74.052 425.365 L 69.736 427.591 L 65.894 429.816 L 62.491 432.041 L 59.493 434.267 L 56.861 436.492 L 54.56 438.717 L 52.553 440.943 L 50.808 443.168 L 48.948 445.95 L 47.395 448.731 L 46.102 451.513 L 45.026 454.295 L 43.975 457.633 L 43.013 461.527 L 42.276 465.421 L 41.576 470.428 L 41.035 475.992 L 40.609 482.668 L 40.275 491.569 L 40.047 504.364 L 39.929 523.836 L 39.929 523.836 " clip-path="url(#p1acb6fe19c)" style="fill: none; stroke-dasharray: 11.248,4.864; stroke-dashoffset: 0; stroke: #ff0000; stroke-width: 3.04"/></g><g id="line2d_48"><path d="M 83.952 306.521 L 86.384 313.063 L 88.592 319.604 L 90.578 326.145 L 92.347 332.686 L 93.899 339.228 L 95.238 345.769 L 96.365 352.31 L 97.284 358.851 L 97.997 365.393 L 98.506 371.934 L 98.836 379.202 L 98.921 386.47 L 98.765 393.738 L 98.37 401.006 L 97.741 408.274 L 96.881 415.542 L 95.793 422.81 L 94.482 430.078 L 92.803 438.073 L 90.724 446.795 L 88.228 456.243 L 85.099 467.145 L 81.102 480.228 L 68.025 522.382 L 67.606 523.836 L 67.606 523.836 " clip-path="url(#p1acb6fe19c)" style="fill: none; stroke-dasharray: 11.248,4.864; stroke-dashoffset: 0; stroke: #ffffff; stroke-width: 3.04"/></g><g id="line2d_49"><path d="M 43.459 306.521 L 44.496 310.334 L 45.62 313.602 L 46.759 316.325 L 48.121 319.048 L 49.746 321.772 L 51.269 323.95 L 53.02 326.129 L 55.032 328.307 L 57.339 330.486 L 59.982 332.665 L 63.003 334.843 L 66.45 337.022 L 70.374 339.2 L 74.827 341.379 L 79.866 343.558 L 85.548 345.736 L 91.926 347.915 L 99.052 350.093 L 106.97 352.272 L 115.711 354.451 L 125.29 356.629 L 138.428 359.352 L 152.777 362.076 L 171.341 365.343 L 204.061 370.79 L 226.455 374.602 L 241.05 377.326 L 251.326 379.504 L 257.976 381.138 L 263.561 382.772 L 266.63 383.861 L 269.138 384.951 L 271.06 386.04 L 272.374 387.129 L 272.799 387.674 L 273.067 388.219 L 273.178 388.763 L 273.131 389.308 L 272.927 389.853 L 272.566 390.397 L 272.049 390.942 L 270.554 392.031 L 268.457 393.121 L 265.78 394.21 L 262.551 395.299 L 256.746 396.933 L 249.902 398.567 L 242.164 400.201 L 230.725 402.38 L 215.152 405.103 L 151.022 415.996 L 136.808 418.719 L 123.821 421.442 L 114.366 423.621 L 105.748 425.799 L 97.95 427.978 L 90.937 430.157 L 84.665 432.335 L 79.082 434.514 L 74.133 436.692 L 69.762 438.871 L 65.912 441.05 L 62.531 443.228 L 59.568 445.407 L 56.978 447.585 L 54.717 449.764 L 52.746 451.942 L 51.03 454.121 L 49.197 456.844 L 47.661 459.568 L 46.374 462.291 L 45.105 465.559 L 44.082 468.827 L 43.137 472.639 L 42.313 476.996 L 41.633 481.898 L 41.054 487.889 L 40.612 494.97 L 40.276 504.229 L 40.049 517.3 L 39.991 523.836 L 39.991 523.836 " clip-path="url(#p1acb6fe19c)" style="fill: none; stroke-dasharray: 11.248,4.864; stroke-dashoffset: 0; stroke: #ff7f0e; stroke-width: 3.04"/></g><g id="line2d_50"><path d="M 41.328 305.135 L 41.652 305.459 L 43.56 308.554 L 46.296 312.153 L 47.16 315.033 L 48.348 317.804 L 52.2 321.151 L 56.52 324.031 L 57.06 326.19 L 57.6 328.098 L 63 329.789 L 68.904 331.193 L 72 333.244 L 77.4 334.828 L 83.304 336.268 L 87.948 337.347 L 92.88 338.607 L 98.748 339.867 L 103.896 340.443 L 108 342.494 L 114.12 343.466 L 119.304 344.042 L 124.2 345.985 L 129.096 348.145 L 133.704 349.188 L 138.96 350.304 L 144.54 352.284 L 150.732 353.291 L 154.8 355.703 L 158.94 358.438 L 162 359.482 L 164.52 361.821 L 167.184 363.621 L 166.14 362.541 L 172.8 364.701 L 181.584 367.724 L 169.2 368.3 L 160.92 367.724 L 166.32 369.38 L 171.36 370.819 L 169.2 373.339 L 171.36 375.426 L 180.576 376.47 L 169.2 377.298 L 160.92 378.017 L 154.8 380.537 L 148.68 383.056 L 146.52 384.136 L 142.2 385.216 L 137.34 386.223 L 132.12 388.815 L 126 390.254 L 121.32 390.974 L 116.748 391.694 L 110.52 392.054 L 106.92 395.293 L 103.32 393.854 L 104.4 400.08 L 100.296 403.679 L 96.696 408.25 L 90 410.05 L 84.348 411.381 L 82.08 415.088 L 79.704 418.076 L 75.096 422.647 L 70.56 426.606 L 66.852 429.845 L 64.8 434.02 L 60.48 437.763 L 56.52 441.218 L 52.56 446.041 L 49.896 448.92 L 47.844 451.44 L 46.08 455.399 L 45 458.998 L 44.28 462.237 L 43.2 465.836 L 42.3 470.515 L 41.76 475.914 L 41.4 483.112 L 41.04 492.11 L 40.86 502.907 L 40.68 516.224 " clip-path="url(#p1acb6fe19c)" style="fill: none; stroke-dasharray: 11.248,4.864; stroke-dashoffset: 0; stroke: #bf00bf; stroke-width: 3.04"/></g><g id="line2d_51"><path d="M 79.704 303.336 L 42.48 304.055 L 43.56 305.675 L 45 307.475 L 46.08 309.274 L 47.88 311.074 L 50.04 312.693 L 52.56 314.313 L 55.08 316.113 L 57.6 317.912 L 60.48 319.352 L 63.36 320.072 L 68.4 321.511 L 64.08 322.591 L 68.76 324.031 L 72 323.311 L 75.24 323.671 L 81.72 324.391 L 76.68 325.11 L 81.72 325.83 L 83.16 326.91 L 88.2 327.45 L 93.96 327.846 L 99.36 328.17 L 104.76 328.889 L 110.16 329.429 L 115.2 330.509 L 120.6 331.049 L 126 331.445 L 129.96 332.669 L 158.4 331.949 L 136.8 334.108 L 158.4 334.828 L 153.36 336.987 L 182.16 337.707 L 154.8 339.507 L 182.16 340.587 L 195.84 340.946 L 219.24 340.946 L 201.24 342.386 L 219.24 343.106 L 187.56 345.265 L 206.28 346.345 L 190.8 347.065 L 210.96 347.425 L 237.96 347.425 L 253.44 348.145 L 243 349.584 L 224.64 352.104 L 236.52 352.824 L 252 352.464 L 241.2 353.903 L 252 354.623 L 253.08 355.343 L 261 357.143 L 254.16 358.222 L 207.36 358.942 L 250.92 360.022 L 207.36 361.102 L 250.92 361.821 L 239.4 362.541 L 298.8 363.981 L 252 365.78 L 288 366.5 L 248.4 367.22 L 366.48 368.876 L 284.4 370.279 L 234 371.719 L 180 373.519 L 128.88 376.398 L 136.8 377.298 L 204.84 378.017 L 244.8 380.537 L 196.56 381.977 L 169.56 382.336 L 153.36 383.236 L 136.8 384.316 L 159.48 386.187 L 213.48 388.239 L 174.24 389.175 L 168.84 390.614 L 141.84 390.974 L 127.08 392.234 L 136.8 394.933 L 144.36 395.473 L 134.28 396.373 L 103.32 399.252 L 128.16 398.173 L 111.6 403.211 L 121.32 405.011 L 103.896 407.17 L 114.12 405.911 L 89.496 409.33 L 98.244 408.25 L 90.504 412.425 L 95.148 413.433 L 94.104 414.009 L 84.852 415.448 L 79.2 417.572 L 69.444 420.631 L 66.348 425.274 L 55.548 429.377 L 57.6 434.02 L 50.904 437.043 L 59.148 443.27 L 49.896 447.84 L 48.24 451.8 L 42.48 456.118 L 43.2 459.718 L 41.76 464.756 L 41.4 474.114 L 41.04 484.911 L 40.86 495.709 L 40.68 506.866 L 40.68 516.224 " clip-path="url(#p1acb6fe19c)" style="fill: none; stroke-dasharray: 11.248,4.864; stroke-dashoffset: 0; stroke: #008000; stroke-width: 3.04"/></g><g id="patch_15"><path d="M 39.888 523.836 L 39.888 301.86 " style="fill: none; stroke: #000000; stroke-width: 0.8; stroke-linejoin: miter; stroke-linecap: square"/></g><g id="patch_16"><path d="M 689.76 523.836 L 689.76 301.86 " style="fill: none; stroke: #000000; stroke-width: 0.8; stroke-linejoin: miter; stroke-linecap: square"/></g><g id="patch_17"><path d="M 39.888 523.836 L 689.76 523.836 " style="fill: none; stroke: #000000; stroke-width: 0.8; stroke-linejoin: miter; stroke-linecap: square"/></g><g id="patch_18"><path d="M 39.888 301.86 L 689.76 301.86 " style="fill: none; stroke: #000000; stroke-width: 0.8; stroke-linejoin: miter; stroke-linecap: square"/></g><g id="text_50"><text style="font-weight: 700; font-size: 10px" x="0.00 4.68 11.88 16.56 20.16 25.92 33.12 38.16 45.36 49.32 52.92 59.76 66.96 73.80 78.84 86.04" y="0" transform="translate(318.384 295.572)">(b) Turb. Energy</text></g><g id="legend_2"><g id="patch_19"><path d="M 552.796 520.836 L 684.76 520.836 Q 686.76 520.836 686.76 518.836 L 686.76 443.236 Q 686.76 441.236 684.76 441.236 L 552.796 441.236 Q 550.796 441.236 550.796 443.236 L 550.796 518.836 Q 550.796 520.836 552.796 520.836 z " style="fill: #4d3a3d; opacity: 0.5; stroke: #4d3a3d; stroke-linejoin: miter"/></g><g id="patch_20"><path d="M 550.796 518.836 L 682.76 518.836 Q 684.76 518.836 684.76 516.836 L 684.76 441.236 Q 684.76 439.236 682.76 439.236 L 550.796 439.236 Q 548.796 439.236 548.796 441.236 L 548.796 516.836 Q 548.796 518.836 550.796 518.836 z " style="fill: #ffc0cb; stroke: #ded8f0; stroke-linejoin: miter"/></g><g id="line2d_52" transform="translate(0 0.360)"><path d="M 552.9 447.796 L 562.9 447.796 L 572.9 447.796 " style="fill: none; stroke-dasharray: 11.248,4.864; stroke-dashoffset: 0; stroke: #ff0000; stroke-width: 3.04"/></g><g id="text_51"><g transform="translate(581.656 451.296)"><text><tspan x="0.00" y="-0.00" style="font-style: oblique; font-size: 10px">R</tspan><tspan x="7.00" y="1.62" style="font-size: 7px">0</tspan><tspan x="11.76" y="-0.00" style="font-size: 10px">/</tspan><tspan x="15.16" y="-0.00" style="font-style: oblique; font-size: 10px">L</tspan><tspan x="20.78" y="1.62" style="font-style: oblique; font-size: 7px">T</tspan><tspan x="27.32 34.57 40.99 44.19" y="-0.00" style="font-size: 10px">*1.5</tspan><tspan x="50.61" y="-0.00" style="font-style: oblique; font-size: 10px">e</tspan><tspan x="56.81" y="-0.00" style="font-size: 10px">3</tspan><tspan x="67.02 70.47 77.65 81.10 85.92 89.38 96.18" y="-0.00" style="font-weight: 700; font-size: 10px">initial</tspan></text></g></g><g id="line2d_53" transform="translate(0 0.360)"><path d="M 552.9 463.016 L 562.9 463.016 L 572.9 463.016 " style="fill: none; stroke-dasharray: 11.248,4.864; stroke-dashoffset: 0; stroke: #ffffff; stroke-width: 3.04"/></g><g id="text_52"><g transform="translate(581.656 466.516)"><text><tspan x="0.00" y="-0.00" style="font-style: oblique; font-size: 10px">R</tspan><tspan x="7.00" y="1.62" style="font-size: 7px">0</tspan><tspan x="11.76" y="-0.00" style="font-size: 10px">/</tspan><tspan x="15.16" y="-0.00" style="font-style: oblique; font-size: 10px">L</tspan><tspan x="20.78" y="1.62" style="font-style: oblique; font-size: 7px">n</tspan><tspan x="27.48 34.74" y="-0.00" style="font-size: 10px">*1</tspan><tspan x="41.15" y="-0.00" style="font-style: oblique; font-size: 10px">e</tspan><tspan x="47.35" y="-0.00" style="font-size: 10px">4</tspan><tspan x="57.56 61.02 68.19 71.65 76.47 79.92 86.72" y="-0.00" style="font-weight: 700; font-size: 10px">initial</tspan></text></g></g><g id="line2d_54" transform="translate(0 0.360)"><path d="M 552.9 478.236 L 562.9 478.236 L 572.9 478.236 " style="fill: none; stroke-dasharray: 11.248,4.864; stroke-dashoffset: 0; stroke: #ff7f0e; stroke-width: 3.04"/></g><g id="text_53"><g transform="translate(581.656 481.736)"><text><tspan x="0.00" y="-0.00" style="font-style: oblique; font-size: 10px">η</tspan><tspan x="8.35 15.61 22.02 25.23" y="-0.00" style="font-size: 10px">*1.5</tspan><tspan x="31.64" y="-0.00" style="font-style: oblique; font-size: 10px">e</tspan><tspan x="37.84" y="-0.00" style="font-size: 10px">4</tspan><tspan x="48.05 51.51 58.68 62.14 66.96 70.41 77.21" y="-0.00" style="font-weight: 700; font-size: 10px">initial</tspan></text></g></g><g id="line2d_55" transform="translate(0 0.360)"><path d="M 552.9 493.456 L 562.9 493.456 L 572.9 493.456 " style="fill: none; stroke-dasharray: 11.248,4.864; stroke-dashoffset: 0; stroke: #bf00bf; stroke-width: 3.04"/></g><g id="text_54"><g transform="translate(581.656 496.956)"><text><tspan x="0.00" y="-0.00" style="font-style: oblique; font-size: 10px">R</tspan><tspan x="7.00" y="1.62" style="font-size: 7px">0</tspan><tspan x="11.76" y="-0.00" style="font-size: 10px">/</tspan><tspan x="15.16" y="-0.00" style="font-style: oblique; font-size: 10px">L</tspan><tspan x="20.78" y="1.62" style="font-style: oblique; font-size: 7px">T</tspan><tspan x="27.32 34.57 40.99 44.19" y="-0.00" style="font-size: 10px">*1.5</tspan><tspan x="50.61" y="-0.00" style="font-style: oblique; font-size: 10px">e</tspan><tspan x="56.81" y="-0.00" style="font-size: 10px">3</tspan><tspan x="67.02 71.40 74.86 82.03 88.84" y="-0.00" style="font-weight: 700; font-size: 10px">final</tspan></text></g></g><g id="line2d_56" transform="translate(0 0.360)"><path d="M 552.9 508.676 L 562.9 508.676 L 572.9 508.676 " style="fill: none; stroke-dasharray: 11.248,4.864; stroke-dashoffset: 0; stroke: #008000; stroke-width: 3.04"/></g><g id="text_55"><g transform="translate(581.656 512.176)"><text><tspan x="0.00" y="-0.00" style="font-style: oblique; font-size: 10px">η</tspan><tspan x="8.35 15.61 22.02 25.23" y="-0.00" style="font-size: 10px">*1.5</tspan><tspan x="31.64" y="-0.00" style="font-style: oblique; font-size: 10px">e</tspan><tspan x="37.84" y="-0.00" style="font-size: 10px">4</tspan><tspan x="48.05 52.44 55.89 63.07 69.87" y="-0.00" style="font-weight: 700; font-size: 10px">final</tspan></text></g></g></g></g><g id="axes_4"><g id="patch_21"><path d="M 730.404 523.836 L 741.6 523.836 L 741.6 301.86 L 730.404 301.86 L 730.404 523.836 z " style="fill: none"/></g><g id="matplotlib.axis_7"/><g id="matplotlib.axis_8"><g id="ytick_19"><g id="line2d_57"><g><use href="#med25b5d0b4" x="741.6" y="523.836" style="stroke: #000000; stroke-width: 0.8"/></g></g><g id="text_56"><text style="font-size: 10px" x="0.00" y="0" transform="translate(748.6 527.616)">0</text></g></g><g id="ytick_20"><g id="line2d_58"><g><use href="#med25b5d0b4" x="741.6" y="493.006" style="stroke: #000000; stroke-width: 0.8"/></g></g><g id="text_57"><text style="font-size: 10px" x="0.00" y="0" transform="translate(748.6 496.786)">1</text></g></g><g id="ytick_21"><g id="line2d_59"><g><use href="#med25b5d0b4" x="741.6" y="462.176" style="stroke: #000000; stroke-width: 0.8"/></g></g><g id="text_58"><text style="font-size: 10px" x="0.00" y="0" transform="translate(748.6 465.956)">2</text></g></g><g id="ytick_22"><g id="line2d_60"><g><use href="#med25b5d0b4" x="741.6" y="431.346" style="stroke: #000000; stroke-width: 0.8"/></g></g><g id="text_59"><text style="font-size: 10px" x="0.00" y="0" transform="translate(748.6 435.126)">3</text></g></g><g id="ytick_23"><g id="line2d_61"><g><use href="#med25b5d0b4" x="741.6" y="400.516" style="stroke: #000000; stroke-width: 0.8"/></g></g><g id="text_60"><text style="font-size: 10px" x="0.00" y="0" transform="translate(748.6 404.296)">4</text></g></g><g id="ytick_24"><g id="line2d_62"><g><use href="#med25b5d0b4" x="741.6" y="369.686" style="stroke: #000000; stroke-width: 0.8"/></g></g><g id="text_61"><text style="font-size: 10px" x="0.00" y="0" transform="translate(748.6 373.466)">5</text></g></g><g id="ytick_25"><g id="line2d_63"><g><use href="#med25b5d0b4" x="741.6" y="338.856" style="stroke: #000000; stroke-width: 0.8"/></g></g><g id="text_62"><text style="font-size: 10px" x="0.00" y="0" transform="translate(748.6 342.636)">6</text></g></g><g id="ytick_26"><g id="line2d_64"><g><use href="#med25b5d0b4" x="741.6" y="308.026" style="stroke: #000000; stroke-width: 0.8"/></g></g><g id="text_63"><text style="font-size: 10px" x="0.00" y="0" transform="translate(748.6 311.806)">7</text></g></g><g id="text_64"><text style="font-size: 10px" x="0.00 6.48 12.60 20.88" y="0" transform="translate(714.24 298.86)">1e−6</text></g></g><g id="patch_22"><path d="M 730.404 523.836 L 730.404 301.86 " style="fill: none; stroke: #000000; stroke-width: 0.8; stroke-linejoin: miter; stroke-linecap: square"/></g><g id="patch_23"><path d="M 741.6 523.836 L 741.6 301.86 " style="fill: none; stroke: #000000; stroke-width: 0.8; stroke-linejoin: miter; stroke-linecap: square"/></g><g id="patch_24"><path d="M 730.404 523.836 L 741.6 523.836 " style="fill: none; stroke: #000000; stroke-width: 0.8; stroke-linejoin: miter; stroke-linecap: square"/></g><g id="patch_25"><path d="M 730.404 301.86 L 741.6 301.86 " style="fill: none; stroke: #000000; stroke-width: 0.8; stroke-linejoin: miter; stroke-linecap: square"/></g></g></g><defs><clipPath id="pcc20bdd488"><rect x="39.888" y="14.904" width="649.872" height="222.03"/></clipPath><clipPath id="p1acb6fe19c"><rect x="39.888" y="301.86" width="649.872" height="221.976"/></clipPath></defs></svg>
</div></body></html>
